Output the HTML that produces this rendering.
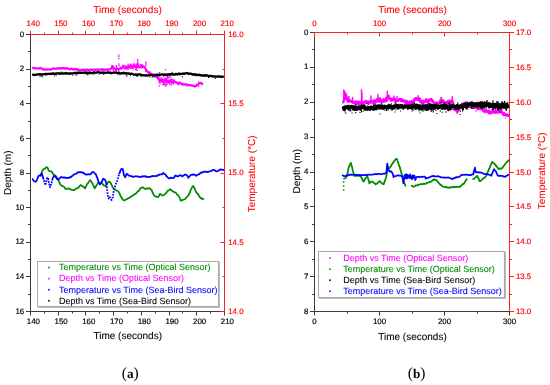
<!DOCTYPE html>
<html><head><meta charset="utf-8"><title>Depth and temperature vs time</title>
<style>
html,body{margin:0;padding:0;background:#fff;}
body{width:550px;height:385px;overflow:hidden;}
svg{display:block;font-family:"Liberation Sans", Arial, Helvetica, sans-serif;text-rendering:geometricPrecision;}
</style></head><body>
<svg width="550" height="385" viewBox="0 0 550 385">
<rect width="550" height="385" fill="#fff"/>
<line x1="30.50" y1="34.00" x2="30.50" y2="312.00" stroke="#3c3c3c" stroke-width="1"/>
<line x1="30.00" y1="311.50" x2="225.00" y2="311.50" stroke="#3c3c3c" stroke-width="1"/>
<line x1="224.50" y1="34.50" x2="224.50" y2="311.50" stroke="#ff2020" stroke-width="1"/>
<line x1="30.50" y1="34.50" x2="225.00" y2="34.50" stroke="#ff2020" stroke-width="1"/>
<line x1="26.00" y1="34.50" x2="30.50" y2="34.50" stroke="#3c3c3c" stroke-width="1"/>
<text x="24.20" y="36.70" fill="#000000" stroke="#000000" stroke-width="0.18" font-size="7.9" text-anchor="end" >0</text>
<line x1="28.00" y1="51.50" x2="30.50" y2="51.50" stroke="#3c3c3c" stroke-width="1"/>
<line x1="26.00" y1="69.50" x2="30.50" y2="69.50" stroke="#3c3c3c" stroke-width="1"/>
<text x="24.20" y="71.33" fill="#000000" stroke="#000000" stroke-width="0.18" font-size="7.9" text-anchor="end" >2</text>
<line x1="28.00" y1="86.50" x2="30.50" y2="86.50" stroke="#3c3c3c" stroke-width="1"/>
<line x1="26.00" y1="103.50" x2="30.50" y2="103.50" stroke="#3c3c3c" stroke-width="1"/>
<text x="24.20" y="105.95" fill="#000000" stroke="#000000" stroke-width="0.18" font-size="7.9" text-anchor="end" >4</text>
<line x1="28.00" y1="121.50" x2="30.50" y2="121.50" stroke="#3c3c3c" stroke-width="1"/>
<line x1="26.00" y1="138.50" x2="30.50" y2="138.50" stroke="#3c3c3c" stroke-width="1"/>
<text x="24.20" y="140.57" fill="#000000" stroke="#000000" stroke-width="0.18" font-size="7.9" text-anchor="end" >6</text>
<line x1="28.00" y1="155.50" x2="30.50" y2="155.50" stroke="#3c3c3c" stroke-width="1"/>
<line x1="26.00" y1="173.50" x2="30.50" y2="173.50" stroke="#3c3c3c" stroke-width="1"/>
<text x="24.20" y="175.20" fill="#000000" stroke="#000000" stroke-width="0.18" font-size="7.9" text-anchor="end" >8</text>
<line x1="28.00" y1="190.50" x2="30.50" y2="190.50" stroke="#3c3c3c" stroke-width="1"/>
<line x1="26.00" y1="207.50" x2="30.50" y2="207.50" stroke="#3c3c3c" stroke-width="1"/>
<text x="24.20" y="209.82" fill="#000000" stroke="#000000" stroke-width="0.18" font-size="7.9" text-anchor="end" >10</text>
<line x1="28.00" y1="224.50" x2="30.50" y2="224.50" stroke="#3c3c3c" stroke-width="1"/>
<line x1="26.00" y1="242.50" x2="30.50" y2="242.50" stroke="#3c3c3c" stroke-width="1"/>
<text x="24.20" y="244.45" fill="#000000" stroke="#000000" stroke-width="0.18" font-size="7.9" text-anchor="end" >12</text>
<line x1="28.00" y1="259.50" x2="30.50" y2="259.50" stroke="#3c3c3c" stroke-width="1"/>
<line x1="26.00" y1="276.50" x2="30.50" y2="276.50" stroke="#3c3c3c" stroke-width="1"/>
<text x="24.20" y="279.07" fill="#000000" stroke="#000000" stroke-width="0.18" font-size="7.9" text-anchor="end" >14</text>
<line x1="28.00" y1="294.50" x2="30.50" y2="294.50" stroke="#3c3c3c" stroke-width="1"/>
<line x1="26.00" y1="311.50" x2="30.50" y2="311.50" stroke="#3c3c3c" stroke-width="1"/>
<text x="24.20" y="313.70" fill="#000000" stroke="#000000" stroke-width="0.18" font-size="7.9" text-anchor="end" >16</text>
<line x1="30.50" y1="30.50" x2="30.50" y2="34.50" stroke="#ff2020" stroke-width="1"/>
<line x1="30.50" y1="311.50" x2="30.50" y2="315.50" stroke="#3c3c3c" stroke-width="1"/>
<text x="33.20" y="25.90" fill="#ff0000" stroke="#ff0000" stroke-width="0.18" font-size="7.9" text-anchor="middle" >140</text>
<text x="33.40" y="324.30" fill="#000000" stroke="#000000" stroke-width="0.18" font-size="7.9" text-anchor="middle" >140</text>
<line x1="44.50" y1="32.50" x2="44.50" y2="34.50" stroke="#ff2020" stroke-width="1"/>
<line x1="44.50" y1="311.50" x2="44.50" y2="313.50" stroke="#3c3c3c" stroke-width="1"/>
<line x1="58.50" y1="30.50" x2="58.50" y2="34.50" stroke="#ff2020" stroke-width="1"/>
<line x1="58.50" y1="311.50" x2="58.50" y2="315.50" stroke="#3c3c3c" stroke-width="1"/>
<text x="60.91" y="25.90" fill="#ff0000" stroke="#ff0000" stroke-width="0.18" font-size="7.9" text-anchor="middle" >150</text>
<text x="61.11" y="324.30" fill="#000000" stroke="#000000" stroke-width="0.18" font-size="7.9" text-anchor="middle" >150</text>
<line x1="72.50" y1="32.50" x2="72.50" y2="34.50" stroke="#ff2020" stroke-width="1"/>
<line x1="72.50" y1="311.50" x2="72.50" y2="313.50" stroke="#3c3c3c" stroke-width="1"/>
<line x1="85.50" y1="30.50" x2="85.50" y2="34.50" stroke="#ff2020" stroke-width="1"/>
<line x1="85.50" y1="311.50" x2="85.50" y2="315.50" stroke="#3c3c3c" stroke-width="1"/>
<text x="88.63" y="25.90" fill="#ff0000" stroke="#ff0000" stroke-width="0.18" font-size="7.9" text-anchor="middle" >160</text>
<text x="88.83" y="324.30" fill="#000000" stroke="#000000" stroke-width="0.18" font-size="7.9" text-anchor="middle" >160</text>
<line x1="99.50" y1="32.50" x2="99.50" y2="34.50" stroke="#ff2020" stroke-width="1"/>
<line x1="99.50" y1="311.50" x2="99.50" y2="313.50" stroke="#3c3c3c" stroke-width="1"/>
<line x1="113.50" y1="30.50" x2="113.50" y2="34.50" stroke="#ff2020" stroke-width="1"/>
<line x1="113.50" y1="311.50" x2="113.50" y2="315.50" stroke="#3c3c3c" stroke-width="1"/>
<text x="116.34" y="25.90" fill="#ff0000" stroke="#ff0000" stroke-width="0.18" font-size="7.9" text-anchor="middle" >170</text>
<text x="116.54" y="324.30" fill="#000000" stroke="#000000" stroke-width="0.18" font-size="7.9" text-anchor="middle" >170</text>
<line x1="127.50" y1="32.50" x2="127.50" y2="34.50" stroke="#ff2020" stroke-width="1"/>
<line x1="127.50" y1="311.50" x2="127.50" y2="313.50" stroke="#3c3c3c" stroke-width="1"/>
<line x1="141.50" y1="30.50" x2="141.50" y2="34.50" stroke="#ff2020" stroke-width="1"/>
<line x1="141.50" y1="311.50" x2="141.50" y2="315.50" stroke="#3c3c3c" stroke-width="1"/>
<text x="144.06" y="25.90" fill="#ff0000" stroke="#ff0000" stroke-width="0.18" font-size="7.9" text-anchor="middle" >180</text>
<text x="144.26" y="324.30" fill="#000000" stroke="#000000" stroke-width="0.18" font-size="7.9" text-anchor="middle" >180</text>
<line x1="155.50" y1="32.50" x2="155.50" y2="34.50" stroke="#ff2020" stroke-width="1"/>
<line x1="155.50" y1="311.50" x2="155.50" y2="313.50" stroke="#3c3c3c" stroke-width="1"/>
<line x1="169.50" y1="30.50" x2="169.50" y2="34.50" stroke="#ff2020" stroke-width="1"/>
<line x1="169.50" y1="311.50" x2="169.50" y2="315.50" stroke="#3c3c3c" stroke-width="1"/>
<text x="171.77" y="25.90" fill="#ff0000" stroke="#ff0000" stroke-width="0.18" font-size="7.9" text-anchor="middle" >190</text>
<text x="171.97" y="324.30" fill="#000000" stroke="#000000" stroke-width="0.18" font-size="7.9" text-anchor="middle" >190</text>
<line x1="182.50" y1="32.50" x2="182.50" y2="34.50" stroke="#ff2020" stroke-width="1"/>
<line x1="182.50" y1="311.50" x2="182.50" y2="313.50" stroke="#3c3c3c" stroke-width="1"/>
<line x1="196.50" y1="30.50" x2="196.50" y2="34.50" stroke="#ff2020" stroke-width="1"/>
<line x1="196.50" y1="311.50" x2="196.50" y2="315.50" stroke="#3c3c3c" stroke-width="1"/>
<text x="199.49" y="25.90" fill="#ff0000" stroke="#ff0000" stroke-width="0.18" font-size="7.9" text-anchor="middle" >200</text>
<text x="199.69" y="324.30" fill="#000000" stroke="#000000" stroke-width="0.18" font-size="7.9" text-anchor="middle" >200</text>
<line x1="210.50" y1="32.50" x2="210.50" y2="34.50" stroke="#ff2020" stroke-width="1"/>
<line x1="210.50" y1="311.50" x2="210.50" y2="313.50" stroke="#3c3c3c" stroke-width="1"/>
<line x1="224.50" y1="30.50" x2="224.50" y2="34.50" stroke="#ff2020" stroke-width="1"/>
<line x1="224.50" y1="311.50" x2="224.50" y2="315.50" stroke="#3c3c3c" stroke-width="1"/>
<text x="227.20" y="25.90" fill="#ff0000" stroke="#ff0000" stroke-width="0.18" font-size="7.9" text-anchor="middle" >210</text>
<text x="227.40" y="324.30" fill="#000000" stroke="#000000" stroke-width="0.18" font-size="7.9" text-anchor="middle" >210</text>
<line x1="220.50" y1="311.50" x2="224.50" y2="311.50" stroke="#ff2020" stroke-width="1"/>
<text x="228.20" y="313.80" fill="#ff0000" stroke="#ff0000" stroke-width="0.18" font-size="7.9" text-anchor="start" >14.0</text>
<line x1="222.50" y1="276.50" x2="224.50" y2="276.50" stroke="#ff2020" stroke-width="1"/>
<line x1="220.50" y1="242.50" x2="224.50" y2="242.50" stroke="#ff2020" stroke-width="1"/>
<text x="228.20" y="244.55" fill="#ff0000" stroke="#ff0000" stroke-width="0.18" font-size="7.9" text-anchor="start" >14.5</text>
<line x1="222.50" y1="207.50" x2="224.50" y2="207.50" stroke="#ff2020" stroke-width="1"/>
<line x1="220.50" y1="173.50" x2="224.50" y2="173.50" stroke="#ff2020" stroke-width="1"/>
<text x="228.20" y="175.30" fill="#ff0000" stroke="#ff0000" stroke-width="0.18" font-size="7.9" text-anchor="start" >15.0</text>
<line x1="222.50" y1="138.50" x2="224.50" y2="138.50" stroke="#ff2020" stroke-width="1"/>
<line x1="220.50" y1="103.50" x2="224.50" y2="103.50" stroke="#ff2020" stroke-width="1"/>
<text x="228.20" y="106.05" fill="#ff0000" stroke="#ff0000" stroke-width="0.18" font-size="7.9" text-anchor="start" >15.5</text>
<line x1="222.50" y1="69.50" x2="224.50" y2="69.50" stroke="#ff2020" stroke-width="1"/>
<line x1="220.50" y1="34.50" x2="224.50" y2="34.50" stroke="#ff2020" stroke-width="1"/>
<text x="228.20" y="36.80" fill="#ff0000" stroke="#ff0000" stroke-width="0.18" font-size="7.9" text-anchor="start" >16.0</text>
<text x="127.50" y="13.20" fill="#ff0000" stroke="#ff0000" stroke-width="0.08" font-size="10.0" text-anchor="middle" >Time (seconds)</text>
<text x="127.70" y="339.30" fill="#000000" stroke="#000000" stroke-width="0.08" font-size="10.0" text-anchor="middle" >Time (seconds)</text>
<text transform="translate(10.5,172.7) rotate(-90)" fill="#000000" stroke="#000000" stroke-width="0.08" font-size="10.0" text-anchor="middle">Depth (m)</text>
<text transform="translate(254.8,173.9) rotate(-90)" fill="#ff0000" stroke="#ff0000" stroke-width="0.08" font-size="10.0" text-anchor="middle">Temperature (°C)</text>
<line x1="314.50" y1="32.50" x2="314.50" y2="312.00" stroke="#3c3c3c" stroke-width="1"/>
<line x1="314.00" y1="311.50" x2="510.00" y2="311.50" stroke="#3c3c3c" stroke-width="1"/>
<line x1="509.50" y1="32.50" x2="509.50" y2="311.50" stroke="#ff2020" stroke-width="1"/>
<line x1="314.50" y1="32.50" x2="510.00" y2="32.50" stroke="#ff2020" stroke-width="1"/>
<line x1="310.00" y1="32.50" x2="314.50" y2="32.50" stroke="#3c3c3c" stroke-width="1"/>
<text x="308.40" y="34.60" fill="#000000" stroke="#000000" stroke-width="0.18" font-size="7.9" text-anchor="end" >0</text>
<line x1="312.00" y1="49.50" x2="314.50" y2="49.50" stroke="#3c3c3c" stroke-width="1"/>
<line x1="310.00" y1="67.50" x2="314.50" y2="67.50" stroke="#3c3c3c" stroke-width="1"/>
<text x="308.40" y="69.47" fill="#000000" stroke="#000000" stroke-width="0.18" font-size="7.9" text-anchor="end" >1</text>
<line x1="312.00" y1="84.50" x2="314.50" y2="84.50" stroke="#3c3c3c" stroke-width="1"/>
<line x1="310.00" y1="102.50" x2="314.50" y2="102.50" stroke="#3c3c3c" stroke-width="1"/>
<text x="308.40" y="104.35" fill="#000000" stroke="#000000" stroke-width="0.18" font-size="7.9" text-anchor="end" >2</text>
<line x1="312.00" y1="119.50" x2="314.50" y2="119.50" stroke="#3c3c3c" stroke-width="1"/>
<line x1="310.00" y1="137.50" x2="314.50" y2="137.50" stroke="#3c3c3c" stroke-width="1"/>
<text x="308.40" y="139.22" fill="#000000" stroke="#000000" stroke-width="0.18" font-size="7.9" text-anchor="end" >3</text>
<line x1="312.00" y1="154.50" x2="314.50" y2="154.50" stroke="#3c3c3c" stroke-width="1"/>
<line x1="310.00" y1="172.50" x2="314.50" y2="172.50" stroke="#3c3c3c" stroke-width="1"/>
<text x="308.40" y="174.10" fill="#000000" stroke="#000000" stroke-width="0.18" font-size="7.9" text-anchor="end" >4</text>
<line x1="312.00" y1="189.50" x2="314.50" y2="189.50" stroke="#3c3c3c" stroke-width="1"/>
<line x1="310.00" y1="206.50" x2="314.50" y2="206.50" stroke="#3c3c3c" stroke-width="1"/>
<text x="308.40" y="208.97" fill="#000000" stroke="#000000" stroke-width="0.18" font-size="7.9" text-anchor="end" >5</text>
<line x1="312.00" y1="224.50" x2="314.50" y2="224.50" stroke="#3c3c3c" stroke-width="1"/>
<line x1="310.00" y1="241.50" x2="314.50" y2="241.50" stroke="#3c3c3c" stroke-width="1"/>
<text x="308.40" y="243.85" fill="#000000" stroke="#000000" stroke-width="0.18" font-size="7.9" text-anchor="end" >6</text>
<line x1="312.00" y1="259.50" x2="314.50" y2="259.50" stroke="#3c3c3c" stroke-width="1"/>
<line x1="310.00" y1="276.50" x2="314.50" y2="276.50" stroke="#3c3c3c" stroke-width="1"/>
<text x="308.40" y="278.73" fill="#000000" stroke="#000000" stroke-width="0.18" font-size="7.9" text-anchor="end" >7</text>
<line x1="312.00" y1="294.50" x2="314.50" y2="294.50" stroke="#3c3c3c" stroke-width="1"/>
<line x1="310.00" y1="311.50" x2="314.50" y2="311.50" stroke="#3c3c3c" stroke-width="1"/>
<text x="308.40" y="313.60" fill="#000000" stroke="#000000" stroke-width="0.18" font-size="7.9" text-anchor="end" >8</text>
<line x1="314.50" y1="32.50" x2="314.50" y2="36.50" stroke="#ff2020" stroke-width="1"/>
<line x1="314.50" y1="311.50" x2="314.50" y2="315.50" stroke="#3c3c3c" stroke-width="1"/>
<text x="314.50" y="25.90" fill="#ff0000" stroke="#ff0000" stroke-width="0.18" font-size="7.9" text-anchor="middle" >0</text>
<text x="314.50" y="324.40" fill="#000000" stroke="#000000" stroke-width="0.18" font-size="7.9" text-anchor="middle" >0</text>
<line x1="347.50" y1="32.50" x2="347.50" y2="34.50" stroke="#ff2020" stroke-width="1"/>
<line x1="347.50" y1="311.50" x2="347.50" y2="313.50" stroke="#3c3c3c" stroke-width="1"/>
<line x1="379.50" y1="32.50" x2="379.50" y2="36.50" stroke="#ff2020" stroke-width="1"/>
<line x1="379.50" y1="311.50" x2="379.50" y2="315.50" stroke="#3c3c3c" stroke-width="1"/>
<text x="379.50" y="25.90" fill="#ff0000" stroke="#ff0000" stroke-width="0.18" font-size="7.9" text-anchor="middle" >100</text>
<text x="379.50" y="324.40" fill="#000000" stroke="#000000" stroke-width="0.18" font-size="7.9" text-anchor="middle" >100</text>
<line x1="412.50" y1="32.50" x2="412.50" y2="34.50" stroke="#ff2020" stroke-width="1"/>
<line x1="412.50" y1="311.50" x2="412.50" y2="313.50" stroke="#3c3c3c" stroke-width="1"/>
<line x1="444.50" y1="32.50" x2="444.50" y2="36.50" stroke="#ff2020" stroke-width="1"/>
<line x1="444.50" y1="311.50" x2="444.50" y2="315.50" stroke="#3c3c3c" stroke-width="1"/>
<text x="444.50" y="25.90" fill="#ff0000" stroke="#ff0000" stroke-width="0.18" font-size="7.9" text-anchor="middle" >200</text>
<text x="444.50" y="324.40" fill="#000000" stroke="#000000" stroke-width="0.18" font-size="7.9" text-anchor="middle" >200</text>
<line x1="477.50" y1="32.50" x2="477.50" y2="34.50" stroke="#ff2020" stroke-width="1"/>
<line x1="477.50" y1="311.50" x2="477.50" y2="313.50" stroke="#3c3c3c" stroke-width="1"/>
<line x1="509.50" y1="32.50" x2="509.50" y2="36.50" stroke="#ff2020" stroke-width="1"/>
<line x1="509.50" y1="311.50" x2="509.50" y2="315.50" stroke="#3c3c3c" stroke-width="1"/>
<text x="509.50" y="25.90" fill="#ff0000" stroke="#ff0000" stroke-width="0.18" font-size="7.9" text-anchor="middle" >300</text>
<text x="509.50" y="324.40" fill="#000000" stroke="#000000" stroke-width="0.18" font-size="7.9" text-anchor="middle" >300</text>
<line x1="509.50" y1="311.50" x2="514.00" y2="311.50" stroke="#ff2020" stroke-width="1"/>
<text x="515.90" y="314.00" fill="#ff0000" stroke="#ff0000" stroke-width="0.18" font-size="7.9" text-anchor="start" >13.0</text>
<line x1="509.50" y1="294.50" x2="512.00" y2="294.50" stroke="#ff2020" stroke-width="1"/>
<line x1="509.50" y1="276.50" x2="514.00" y2="276.50" stroke="#ff2020" stroke-width="1"/>
<text x="515.90" y="279.12" fill="#ff0000" stroke="#ff0000" stroke-width="0.18" font-size="7.9" text-anchor="start" >13.5</text>
<line x1="509.50" y1="259.50" x2="512.00" y2="259.50" stroke="#ff2020" stroke-width="1"/>
<line x1="509.50" y1="241.50" x2="514.00" y2="241.50" stroke="#ff2020" stroke-width="1"/>
<text x="515.90" y="244.25" fill="#ff0000" stroke="#ff0000" stroke-width="0.18" font-size="7.9" text-anchor="start" >14.0</text>
<line x1="509.50" y1="224.50" x2="512.00" y2="224.50" stroke="#ff2020" stroke-width="1"/>
<line x1="509.50" y1="206.50" x2="514.00" y2="206.50" stroke="#ff2020" stroke-width="1"/>
<text x="515.90" y="209.38" fill="#ff0000" stroke="#ff0000" stroke-width="0.18" font-size="7.9" text-anchor="start" >14.5</text>
<line x1="509.50" y1="189.50" x2="512.00" y2="189.50" stroke="#ff2020" stroke-width="1"/>
<line x1="509.50" y1="172.50" x2="514.00" y2="172.50" stroke="#ff2020" stroke-width="1"/>
<text x="515.90" y="174.50" fill="#ff0000" stroke="#ff0000" stroke-width="0.18" font-size="7.9" text-anchor="start" >15.0</text>
<line x1="509.50" y1="154.50" x2="512.00" y2="154.50" stroke="#ff2020" stroke-width="1"/>
<line x1="509.50" y1="137.50" x2="514.00" y2="137.50" stroke="#ff2020" stroke-width="1"/>
<text x="515.90" y="139.62" fill="#ff0000" stroke="#ff0000" stroke-width="0.18" font-size="7.9" text-anchor="start" >15.5</text>
<line x1="509.50" y1="119.50" x2="512.00" y2="119.50" stroke="#ff2020" stroke-width="1"/>
<line x1="509.50" y1="102.50" x2="514.00" y2="102.50" stroke="#ff2020" stroke-width="1"/>
<text x="515.90" y="104.75" fill="#ff0000" stroke="#ff0000" stroke-width="0.18" font-size="7.9" text-anchor="start" >16.0</text>
<line x1="509.50" y1="84.50" x2="512.00" y2="84.50" stroke="#ff2020" stroke-width="1"/>
<line x1="509.50" y1="67.50" x2="514.00" y2="67.50" stroke="#ff2020" stroke-width="1"/>
<text x="515.90" y="69.88" fill="#ff0000" stroke="#ff0000" stroke-width="0.18" font-size="7.9" text-anchor="start" >16.5</text>
<line x1="509.50" y1="49.50" x2="512.00" y2="49.50" stroke="#ff2020" stroke-width="1"/>
<line x1="509.50" y1="32.50" x2="514.00" y2="32.50" stroke="#ff2020" stroke-width="1"/>
<text x="515.90" y="35.00" fill="#ff0000" stroke="#ff0000" stroke-width="0.18" font-size="7.9" text-anchor="start" >17.0</text>
<text x="412.50" y="13.20" fill="#ff0000" stroke="#ff0000" stroke-width="0.08" font-size="10.0" text-anchor="middle" >Time (seconds)</text>
<text x="412.50" y="339.60" fill="#000000" stroke="#000000" stroke-width="0.08" font-size="10.0" text-anchor="middle" >Time (seconds)</text>
<text transform="translate(299.5,171.2) rotate(-90)" fill="#000000" stroke="#000000" stroke-width="0.08" font-size="10.0" text-anchor="middle">Depth (m)</text>
<text transform="translate(545.0,170.8) rotate(-90)" fill="#ff0000" stroke="#ff0000" stroke-width="0.08" font-size="10.0" text-anchor="middle">Temperature (°C)</text>
<polyline points="33.0,67.9 34.2,68.1 35.4,68.2 36.6,68.4 37.8,68.3 39.0,68.6 40.2,67.8 41.4,68.5 42.6,69.3 43.8,69.2 45.0,69.8 46.2,69.2 47.4,69.6 48.6,69.3 49.8,69.6 51.0,69.5 52.2,68.6 53.4,68.6 54.6,68.4 55.8,68.9 57.0,68.7 58.2,68.1 59.4,68.8 60.6,68.1 61.8,68.6 63.0,68.1 64.2,67.9 65.4,68.8 66.6,68.2 67.8,68.3 69.0,69.2 70.2,69.2 71.4,68.7 72.6,69.5 73.8,69.1 75.0,69.4 76.2,69.0 77.4,69.9 78.6,69.7 79.8,70.1 81.0,70.1 82.2,69.7 83.4,69.8 84.6,69.7 85.8,69.8 87.0,69.7 88.2,69.9 89.4,70.1 90.6,69.4 91.8,70.0 93.0,69.6 94.2,69.5 95.4,69.9 96.6,69.6 97.8,69.4 99.0,69.6 100.2,69.8 101.4,69.2 102.6,70.1 103.8,69.1 105.0,69.8 106.2,69.9 107.4,69.1 108.6,69.8 109.8,69.4 111.0,68.6 112.2,68.0 113.4,68.5 114.6,68.7 115.8,69.5 117.0,68.7 118.2,69.2 119.4,68.7 120.6,68.4 121.8,67.7 123.0,67.6 124.2,67.7 125.4,67.8 126.6,67.1 127.8,67.5 129.0,67.4 130.2,67.3 131.4,66.3 132.6,67.2 133.8,66.4 135.0,66.6 136.2,66.9 137.4,67.0 138.6,66.4 139.8,67.1 141.0,66.8 142.2,66.7 143.4,66.9 144.6,66.8 145.8,69.4 147.0,70.9 148.2,72.3 149.4,73.5 150.6,73.5 151.8,74.1 153.0,75.7 154.2,75.9 155.4,76.3 156.6,76.6 157.8,78.1 159.0,79.8 160.2,80.1 161.4,80.5 162.6,80.2 163.8,81.1 165.0,80.4 166.2,80.9 167.4,81.4 168.6,80.8 169.8,81.5 171.0,81.8 172.2,81.7 173.4,82.1 174.6,81.8 175.8,82.4 177.0,82.3 178.2,83.2 179.4,82.9 180.6,83.3 181.8,84.1 183.0,84.2 184.2,84.6 185.4,84.3 186.6,84.6 187.8,85.0 189.0,85.0 190.2,85.1 191.4,85.5 192.6,85.6 193.8,85.7 195.0,86.1 196.2,85.9 197.4,85.0 198.6,84.2 199.8,83.0 201.0,83.2 202.2,84.0" fill="none" stroke="#ff00ff" stroke-width="2.2" stroke-linejoin="round" stroke-linecap="round" />
<path d="M181.9 84.5h1.1v1.1h-1.1z M182.3 82.8h1.1v1.1h-1.1z M181.3 82.8h1.1v1.1h-1.1z M179.9 81.4h1.1v1.1h-1.1z M143.4 66.7h1.1v1.1h-1.1z M154.7 75.1h1.1v1.1h-1.1z M180.8 83.0h1.1v1.1h-1.1z M197.0 84.0h1.1v1.1h-1.1z M169.8 81.1h1.1v1.1h-1.1z M160.3 80.1h1.1v1.1h-1.1z M133.1 66.1h1.1v1.1h-1.1z M185.1 83.0h1.1v1.1h-1.1z M169.6 81.6h1.1v1.1h-1.1z M169.3 80.1h1.1v1.1h-1.1z M177.9 83.4h1.1v1.1h-1.1z M187.5 83.7h1.1v1.1h-1.1z M190.0 83.9h1.1v1.1h-1.1z M198.0 81.3h1.1v1.1h-1.1z M157.7 77.1h1.1v1.1h-1.1z M187.0 84.5h1.1v1.1h-1.1z M196.2 83.4h1.1v1.1h-1.1z M176.2 82.8h1.1v1.1h-1.1z M177.2 83.8h1.1v1.1h-1.1z M163.4 82.7h1.1v1.1h-1.1z M171.2 79.8h1.1v1.1h-1.1z M181.3 84.3h1.1v1.1h-1.1z M168.6 81.1h1.1v1.1h-1.1z M124.7 67.3h1.1v1.1h-1.1z M150.6 73.3h1.1v1.1h-1.1z M173.1 81.0h1.1v1.1h-1.1z M168.0 82.5h1.1v1.1h-1.1z M130.8 67.2h1.1v1.1h-1.1z M115.0 69.8h1.1v1.1h-1.1z M126.7 68.3h1.1v1.1h-1.1z M127.8 68.7h1.1v1.1h-1.1z M145.0 67.5h1.1v1.1h-1.1z M166.3 80.1h1.1v1.1h-1.1z M193.1 85.4h1.1v1.1h-1.1z M110.1 68.6h1.1v1.1h-1.1z M147.7 72.4h1.1v1.1h-1.1z M120.6 68.6h1.1v1.1h-1.1z M113.3 67.9h1.1v1.1h-1.1z M166.4 82.3h1.1v1.1h-1.1z M141.2 67.7h1.1v1.1h-1.1z M163.4 83.0h1.1v1.1h-1.1z M148.6 71.8h1.1v1.1h-1.1z M184.8 83.5h1.1v1.1h-1.1z M123.1 66.8h1.1v1.1h-1.1z M164.8 77.8h1.1v1.1h-1.1z M199.1 82.5h1.1v1.1h-1.1z M166.0 79.3h1.1v1.1h-1.1z M110.1 71.6h1.1v1.1h-1.1z M119.9 66.4h1.1v1.1h-1.1z M122.9 67.0h1.1v1.1h-1.1z M167.9 82.1h1.1v1.1h-1.1z M149.7 72.5h1.1v1.1h-1.1z M130.8 65.9h1.1v1.1h-1.1z M144.9 70.6h1.1v1.1h-1.1z M198.4 85.8h1.1v1.1h-1.1z M133.9 65.9h1.1v1.1h-1.1z M200.3 81.8h1.1v1.1h-1.1z M139.4 66.7h1.1v1.1h-1.1z M200.6 82.2h1.1v1.1h-1.1z M153.9 75.8h1.1v1.1h-1.1z M121.2 66.9h1.1v1.1h-1.1z M137.0 65.7h1.1v1.1h-1.1z M181.9 83.7h1.1v1.1h-1.1z M159.0 79.3h1.1v1.1h-1.1z M135.2 68.9h1.1v1.1h-1.1z M132.6 65.9h1.1v1.1h-1.1z M134.6 69.0h1.1v1.1h-1.1z M137.0 69.9h1.1v1.1h-1.1z M165.9 79.1h1.1v1.1h-1.1z M165.6 81.2h1.1v1.1h-1.1z M178.4 84.5h1.1v1.1h-1.1z M137.7 68.0h1.1v1.1h-1.1z M159.1 79.0h1.1v1.1h-1.1z M158.7 80.1h1.1v1.1h-1.1z M152.7 73.7h1.1v1.1h-1.1z M164.4 82.4h1.1v1.1h-1.1z M113.4 69.0h1.1v1.1h-1.1z M194.3 87.2h1.1v1.1h-1.1z M191.7 85.5h1.1v1.1h-1.1z M181.6 83.5h1.1v1.1h-1.1z M149.4 71.2h1.1v1.1h-1.1z M168.2 80.2h1.1v1.1h-1.1z M154.3 77.0h1.1v1.1h-1.1z M146.1 69.9h1.1v1.1h-1.1z M188.4 85.2h1.1v1.1h-1.1z M186.4 85.6h1.1v1.1h-1.1z" fill="#ff00ff"/>
<path d="M113.3 69.0l0 -3.6 M126.1 67.5l0 2.2 M142.9 67.0l0 -1.9 M130.2 66.9l0 -2.7 M116.4 69.0l0 3.0 M113.4 69.0l0 2.1 M138.7 66.6l0 -3.2 M136.3 66.8l0 3.9 M135.5 66.8l0 1.6 M118.7 68.7l0 3.1 M135.9 66.8l0 -1.8 M143.1 67.0l0 -1.9 M125.5 67.6l0 -1.9 M112.5 68.7l0 -1.8 M113.5 69.0l0 -1.6 M137.0 66.7l0 -3.7 M126.1 67.5l0 -2.3 M128.1 67.2l0 -3.8 M113.0 69.0l0 -3.2 M133.1 66.8l0 2.8 M130.4 66.9l0 -3.1 M130.3 66.9l0 2.1 M129.1 67.1l0 -1.8 M124.0 67.7l0 -3.3 M136.0 66.8l0 -3.1 M134.4 66.8l0 -1.7 M131.8 66.8l0 2.1 M127.8 67.3l0 2.3 M112.0 68.4l0 -3.3 M116.3 69.0l0 -3.9 M118.8 68.6l0 1.8 M134.3 66.8l0 -3.6 M132.9 66.8l0 -2.4 M122.7 67.8l0 -3.0 M124.5 67.6l0 1.8 M133.7 66.8l0 -3.5 M140.8 66.8l0 -2.8 M131.1 66.8l0 -3.4 M114.4 69.0l0 -1.6 M112.4 68.6l0 -3.7 M137.6 66.6l0 -1.5 M142.1 66.9l0 -3.0 M127.3 67.4l0 -1.7 M116.6 69.0l0 -2.4 M141.8 66.9l0 -1.9" fill="none" stroke="#ff00ff" stroke-width="1.2"/>
<path d="M162.4 81.1h1.2v1.2h-1.2z M161.8 81.6h1.2v1.2h-1.2z M165.7 84.9h1.2v1.2h-1.2z M163.9 81.3h1.2v1.2h-1.2z M173.0 80.2h1.2v1.2h-1.2z M165.5 77.7h1.2v1.2h-1.2z M173.1 83.6h1.2v1.2h-1.2z M162.7 82.3h1.2v1.2h-1.2z M168.8 80.7h1.2v1.2h-1.2z M161.2 79.0h1.2v1.2h-1.2z M158.4 80.1h1.2v1.2h-1.2z M164.4 81.2h1.2v1.2h-1.2z M173.6 80.3h1.2v1.2h-1.2z M165.5 81.8h1.2v1.2h-1.2z M162.5 79.9h1.2v1.2h-1.2z M160.6 77.0h1.2v1.2h-1.2z M161.8 78.0h1.2v1.2h-1.2z M168.3 76.6h1.2v1.2h-1.2z M164.9 80.7h1.2v1.2h-1.2z M159.0 80.0h1.2v1.2h-1.2z M170.5 80.5h1.2v1.2h-1.2z M166.8 80.9h1.2v1.2h-1.2z M173.8 79.6h1.2v1.2h-1.2z M159.5 79.9h1.2v1.2h-1.2z M159.1 81.9h1.2v1.2h-1.2z M173.0 80.0h1.2v1.2h-1.2z M158.9 80.1h1.2v1.2h-1.2z M164.4 81.0h1.2v1.2h-1.2z M159.0 80.0h1.2v1.2h-1.2z M162.9 82.4h1.2v1.2h-1.2z M158.8 85.2h1.2v1.2h-1.2z M160.9 81.4h1.2v1.2h-1.2z M166.1 78.5h1.2v1.2h-1.2z M159.3 81.5h1.2v1.2h-1.2z M163.0 82.3h1.2v1.2h-1.2z M172.7 82.9h1.2v1.2h-1.2z M167.6 81.6h1.2v1.2h-1.2z M158.3 78.9h1.2v1.2h-1.2z M166.6 78.0h1.2v1.2h-1.2z M164.0 80.6h1.2v1.2h-1.2z M168.0 80.1h1.2v1.2h-1.2z M162.9 75.9h1.2v1.2h-1.2z M165.2 81.1h1.2v1.2h-1.2z M159.9 78.9h1.2v1.2h-1.2z M163.0 83.2h1.2v1.2h-1.2z M171.1 82.9h1.2v1.2h-1.2z M163.0 80.9h1.2v1.2h-1.2z M161.9 80.8h1.2v1.2h-1.2z M159.3 77.7h1.2v1.2h-1.2z M161.9 81.4h1.2v1.2h-1.2z M159.0 79.9h1.2v1.2h-1.2z M161.2 79.6h1.2v1.2h-1.2z M162.6 79.6h1.2v1.2h-1.2z M164.7 81.1h1.2v1.2h-1.2z M163.0 80.4h1.2v1.2h-1.2z M172.3 78.7h1.2v1.2h-1.2z M168.5 81.0h1.2v1.2h-1.2z M165.1 77.8h1.2v1.2h-1.2z M171.1 78.3h1.2v1.2h-1.2z M169.6 76.8h1.2v1.2h-1.2z M169.2 80.5h1.2v1.2h-1.2z M164.1 84.0h1.2v1.2h-1.2z M160.1 81.2h1.2v1.2h-1.2z M162.2 80.8h1.2v1.2h-1.2z M168.8 80.7h1.2v1.2h-1.2z M170.2 81.7h1.2v1.2h-1.2z M166.9 81.2h1.2v1.2h-1.2z M160.1 80.2h1.2v1.2h-1.2z M163.7 83.5h1.2v1.2h-1.2z M167.8 77.0h1.2v1.2h-1.2z M161.7 78.5h1.2v1.2h-1.2z M163.3 81.2h1.2v1.2h-1.2z M158.2 76.8h1.2v1.2h-1.2z M169.6 79.1h1.2v1.2h-1.2z M159.5 78.9h1.2v1.2h-1.2z M169.4 80.7h1.2v1.2h-1.2z M165.1 83.7h1.2v1.2h-1.2z M159.9 78.8h1.2v1.2h-1.2z M163.1 82.2h1.2v1.2h-1.2z M164.9 79.3h1.2v1.2h-1.2z M165.1 81.0h1.2v1.2h-1.2z M166.5 75.9h1.2v1.2h-1.2z M173.5 80.7h1.2v1.2h-1.2z M171.0 80.6h1.2v1.2h-1.2z M164.7 85.6h1.2v1.2h-1.2z M158.5 81.8h1.2v1.2h-1.2z M167.2 76.5h1.2v1.2h-1.2z M164.3 80.9h1.2v1.2h-1.2z M161.4 80.0h1.2v1.2h-1.2z M167.0 81.9h1.2v1.2h-1.2z M163.7 80.4h1.2v1.2h-1.2z M163.6 78.9h1.2v1.2h-1.2z M162.0 84.1h1.2v1.2h-1.2z M171.6 80.8h1.2v1.2h-1.2z M167.9 79.8h1.2v1.2h-1.2z M171.3 81.8h1.2v1.2h-1.2z M165.8 81.7h1.2v1.2h-1.2z M159.6 80.4h1.2v1.2h-1.2z M169.5 82.0h1.2v1.2h-1.2z M170.8 80.3h1.2v1.2h-1.2z M163.2 78.7h1.2v1.2h-1.2z M168.0 77.1h1.2v1.2h-1.2z M170.8 80.9h1.2v1.2h-1.2z M166.2 80.7h1.2v1.2h-1.2z M167.4 81.5h1.2v1.2h-1.2z M163.1 82.1h1.2v1.2h-1.2z M158.4 79.3h1.2v1.2h-1.2z M165.6 82.3h1.2v1.2h-1.2z M169.3 76.3h1.2v1.2h-1.2z M171.0 84.5h1.2v1.2h-1.2z M172.8 80.3h1.2v1.2h-1.2z M166.6 77.8h1.2v1.2h-1.2z M170.8 79.4h1.2v1.2h-1.2z M168.9 82.9h1.2v1.2h-1.2z M166.4 80.4h1.2v1.2h-1.2z M159.4 80.9h1.2v1.2h-1.2z M163.7 77.4h1.2v1.2h-1.2z M169.4 79.3h1.2v1.2h-1.2z M162.9 81.8h1.2v1.2h-1.2z M169.5 80.2h1.2v1.2h-1.2z" fill="#ff00ff"/>
<path d="M118.2 54.4h1.3v1.3h-1.3z M118.2 55.9h1.3v1.3h-1.3z M118.2 57.9h1.3v1.3h-1.3z M118.3 63.4h1.3v1.3h-1.3z M118.4 64.9h1.3v1.3h-1.3z M126.1 75.6h1.3v1.3h-1.3z M119.1 73.9h1.3v1.3h-1.3z M137.1 59.0h1.3v1.3h-1.3z M136.9 60.4h1.3v1.3h-1.3z M137.2 61.9h1.3v1.3h-1.3z M137.0 63.4h1.3v1.3h-1.3z M110.9 66.0h1.3v1.3h-1.3z M145.3 61.6h1.3v1.3h-1.3z M145.3 63.2h1.3v1.3h-1.3z M145.3 64.8h1.3v1.3h-1.3z M145.4 68.4h1.3v1.3h-1.3z M145.4 70.9h1.3v1.3h-1.3z M164.9 68.9h1.3v1.3h-1.3z M171.2 71.7h1.3v1.3h-1.3z M158.9 72.1h1.3v1.3h-1.3z M159.4 82.9h1.3v1.3h-1.3z M162.4 83.9h1.3v1.3h-1.3z M166.4 83.6h1.3v1.3h-1.3z M169.4 84.0h1.3v1.3h-1.3z" fill="#ff00ff"/>
<polyline points="40.9,174.2 41.2,173.8 41.6,172.8 41.9,172.1 42.3,171.2 42.8,170.1 43.2,169.3 44.1,169.0 45.0,168.7 45.9,167.6 46.8,167.1 47.7,168.0 48.0,168.5 48.3,169.9 48.6,170.5 49.3,170.9 50.0,171.1 51.4,171.3 52.0,172.1 52.7,173.3 53.3,174.1 53.9,174.7 54.5,175.1 55.1,175.5 55.8,175.9 56.4,176.9 56.8,177.6 57.3,178.5 57.7,179.0 58.2,180.3 58.6,180.7 59.1,181.7 59.5,182.5 60.0,183.7 60.5,184.8 61.1,185.3 62.1,185.9 63.1,186.4 63.8,186.7 64.4,187.2 65.0,188.2 65.7,189.0 66.6,189.0 67.4,188.8 68.3,188.4 69.2,188.7 70.0,189.1 70.9,189.7 71.8,189.7 72.8,190.1 73.6,190.0 74.4,190.0 75.3,189.1 76.1,188.7 76.9,188.2 77.8,188.0 78.6,187.6 79.1,186.6 79.6,186.0 80.1,185.6 80.6,185.0 81.5,185.7 82.5,186.4 83.2,186.4 83.8,187.1 84.4,187.9 85.1,188.4 85.5,187.2 85.9,186.8 86.2,185.9 86.6,185.3 87.0,184.0 87.5,183.7 88.1,183.1 88.6,182.2 89.1,181.3 89.7,180.7 90.2,180.1 90.7,180.8 91.2,181.6 91.8,182.7 92.3,183.1 92.8,184.4 93.2,185.1 93.6,186.0 93.9,186.8 94.3,187.5 94.7,188.4 95.2,187.6 95.7,186.6 96.2,186.0 96.7,184.6 97.3,184.0 98.0,183.3 98.6,182.7 99.5,182.6 100.3,182.5 101.2,182.4 101.7,183.1 102.2,183.3 102.8,184.2 103.3,184.9 103.8,185.4 104.8,185.6 105.8,186.3 106.2,185.3 106.6,184.8 106.9,183.9 107.3,183.4 107.7,182.6 108.7,181.7 109.7,181.8 110.2,182.6 110.7,183.1 111.1,183.8 111.6,184.9 112.0,185.6 112.4,186.6 112.8,187.5 113.2,187.9 113.6,188.7 114.5,189.2 115.3,189.8 116.2,190.3 116.8,190.6 117.5,190.9 118.2,191.4 118.8,192.2 119.1,192.8 119.5,193.2 119.8,194.2 120.1,194.8 120.4,195.8 120.8,196.1 121.1,197.0 121.4,197.6 122.1,198.5 122.7,199.5 123.3,199.9 124.0,200.4 124.9,200.4 125.7,199.3 126.6,199.1 127.4,199.0 128.2,198.1 128.9,198.2 129.7,197.5 130.5,196.9 131.3,196.5 132.1,196.1 132.8,195.6 133.6,195.1 134.4,194.3 135.0,193.9 135.7,193.9 136.3,193.0 136.9,192.4 137.6,191.6 138.2,191.2 138.7,191.1 139.2,190.2 139.8,189.4 140.3,188.4 140.8,188.0 141.7,187.8 142.6,187.2 143.4,187.7 144.2,188.4 145.0,188.7 145.8,189.1 146.6,188.5 147.4,188.3 148.1,188.6 148.9,188.2 149.7,188.4 150.4,189.0 151.0,189.7 151.7,190.0 152.0,191.2 152.3,191.8 152.6,192.6 153.0,192.9 153.3,194.0 153.6,194.5 154.3,195.6 154.9,196.3 155.6,196.4 156.5,196.7 157.3,196.8 158.2,197.2 158.7,196.3 159.1,195.7 159.6,194.5 160.1,193.8 160.8,194.5 161.4,194.7 162.1,195.4 163.0,195.5 163.8,195.2 164.7,194.4 165.2,193.6 165.7,193.5 166.3,193.0 166.8,192.1 167.3,191.1 168.0,190.7 168.6,190.7 169.2,190.2 169.9,189.1 170.7,189.7 171.5,190.4 172.3,190.7 173.1,191.6 173.9,191.8 174.8,192.5 175.6,192.6 176.4,193.3 176.9,194.3 177.4,194.8 178.0,195.0 178.5,195.7 179.0,196.7 179.4,197.3 179.8,198.1 180.1,198.9 180.5,199.8 180.9,200.8 181.8,200.1 182.6,200.1 183.5,199.6 184.5,199.2 185.5,198.7 186.2,197.6 186.8,197.2 187.4,196.7 188.1,195.6 188.5,195.3 188.9,194.3 189.2,193.6 189.6,192.9 190.0,192.2 190.3,190.9 190.7,190.5 191.0,189.4 191.3,188.9 191.7,188.1 192.0,187.2 192.6,186.6 193.2,185.9 193.6,186.7 194.1,187.7 194.5,188.0 194.8,188.9 195.2,189.8 195.5,190.7 195.8,191.5 196.2,192.3 196.5,192.6 197.1,193.1 197.8,194.3 198.4,194.3 198.9,195.6 199.5,196.8 200.1,197.3 200.8,197.8 201.4,198.8 202.4,198.6 203.4,198.9" fill="none" stroke="#008a00" stroke-width="1.75" stroke-linejoin="round" stroke-linecap="round" />
<polyline points="32.7,179.1 33.2,180.1 33.6,180.4 34.1,181.3 35.5,181.8 36.1,181.2 36.8,180.3 37.1,179.5 37.5,178.3 37.9,177.4 38.2,176.7 39.1,175.3 40.5,175.8 41.1,174.4 41.8,173.4 42.1,174.6 42.4,175.4 42.6,175.9 42.9,177.1 43.2,177.7" fill="none" stroke="#0000ff" stroke-width="1.75" stroke-linejoin="round" stroke-linecap="round" />
<polyline points="43.2,177.7 44.5,182.7 45.5,185.0 46.4,180.9 47.3,177.7 48.2,178.6 49.1,183.6 50.0,187.3 51.4,183.6 52.7,178.2" fill="none" stroke="#0000ff" stroke-width="1.7" stroke-linejoin="round" stroke-linecap="butt" stroke-dasharray="1.8 0.9"/>
<polyline points="52.7,178.3 53.2,177.4 53.6,176.8 54.1,175.7 55.5,176.2 55.9,177.4 56.4,177.8 56.8,178.9 57.5,179.1 58.2,179.7 58.7,179.0 59.1,178.8 59.8,178.1 60.5,177.2 61.4,177.1 62.2,177.6 63.1,177.3 64.1,177.8 65.0,177.4 66.0,178.0 67.0,177.8 67.8,178.1 68.6,177.8 69.3,177.6 70.1,177.1 70.9,177.4 71.6,176.3 72.2,175.8 72.8,175.8 73.5,174.9 74.2,174.4 74.8,174.2 75.6,173.9 76.3,173.6 77.1,173.1 77.8,172.2 78.6,172.2 79.6,172.4 80.5,172.0 81.5,172.6 82.5,172.3 83.3,172.9 84.2,173.3 85.0,174.4 85.9,174.3 86.7,174.6 87.6,174.3 88.5,174.2 89.3,174.3 90.2,174.3 90.8,174.2 91.5,173.0 92.2,172.3 92.8,171.8 93.5,172.1 94.1,172.8 94.8,173.4 95.4,173.9 95.8,174.4 96.2,175.1 96.5,176.1 96.9,177.1 97.3,177.7 97.6,178.7 97.8,179.8 98.1,180.2 98.3,181.2 98.6,182.3 99.2,183.3 99.9,184.5 100.6,183.6 101.2,183.0 101.6,182.1 102.0,181.5 102.4,180.8 102.8,179.6 103.2,178.7 104.2,179.2 105.1,179.6 105.4,180.8 105.6,181.1 105.9,182.1 106.1,182.9 106.4,183.6" fill="none" stroke="#0000ff" stroke-width="1.75" stroke-linejoin="round" stroke-linecap="round" />
<polyline points="106.4,183.6 107.2,190.0 107.8,196.0 108.6,198.5 109.6,196.5 110.5,199.0 111.6,200.0 112.6,198.0 113.3,194.0 114.0,189.5 115.5,184.9 117.5,179.7 119.4,173.2" fill="none" stroke="#0000ff" stroke-width="1.8" stroke-linejoin="round" stroke-linecap="butt" stroke-dasharray="1.6 1.3"/>
<polyline points="119.4,173.5 119.7,172.2 120.1,171.9 120.4,170.8 120.7,169.9 121.1,169.5 121.4,168.8 122.2,169.0 122.9,169.0 123.0,170.4 123.2,170.8 123.3,171.8 123.5,172.7 123.6,173.2 123.7,174.1 123.9,174.9 124.0,175.5 124.7,176.1 125.3,177.3 125.6,176.2 125.9,175.7 126.3,174.3 126.6,173.7 127.5,174.2 128.5,175.4 129.5,175.7 130.5,176.1 131.3,176.2 132.2,176.4 133.0,177.0 133.9,176.7 134.7,176.3 135.6,176.4 136.6,176.3 137.6,176.3 138.5,176.6 139.5,177.0 140.4,177.0 141.2,176.6 142.1,176.3 143.0,176.7 143.8,176.2 144.7,176.4 145.6,176.2 146.5,177.0 147.3,176.8 148.2,176.9 149.1,176.9 150.0,176.8 150.8,176.8 151.7,176.1 152.6,175.9 153.4,176.1 154.3,176.3 155.2,175.9 156.0,176.0 156.9,176.1 157.8,175.2 158.6,175.2 159.5,174.5 160.4,174.3 161.4,174.4 162.1,174.4 162.7,173.5 163.4,172.9 164.0,173.7 164.7,174.0 165.3,174.5 165.8,175.0 166.3,176.0 166.8,176.3 167.3,177.1 168.2,177.9 169.2,178.5 170.1,177.9 170.9,177.7 171.8,177.8 172.8,178.1 173.8,177.8 174.2,177.7 174.7,176.3 175.1,175.6 176.0,175.7 176.8,176.2 177.7,176.5 178.6,176.2 179.4,175.3 180.3,175.2 181.2,175.5 182.2,176.5 183.0,175.8 183.8,175.3 184.7,174.7 185.5,174.7 186.4,174.9 187.4,176.0 187.9,176.6 188.4,177.8 188.9,177.1 189.4,176.4 189.9,176.0 190.4,175.4 191.2,174.8 192.0,174.7 192.8,174.9 193.6,174.2 194.5,174.8 195.3,175.1 196.2,175.8 197.1,174.8 197.9,174.7 198.8,174.4 199.7,173.8 200.5,172.7 201.4,172.8 202.2,172.1 203.1,172.3 203.9,171.9 204.7,171.5 205.5,171.9 206.3,171.9 207.1,171.7 207.9,172.1 208.7,171.6 209.6,171.5 210.4,171.2 211.2,171.0 212.0,170.3 212.8,170.3 213.6,169.8 214.4,170.1 215.3,170.7 216.1,171.3 217.0,171.3 218.0,171.0 219.0,170.3 219.9,169.7 220.7,169.4 221.6,169.6 222.6,169.8 223.5,169.9" fill="none" stroke="#0000ff" stroke-width="1.75" stroke-linejoin="round" stroke-linecap="round" />
<polyline points="33.0,74.6 34.0,75.0 35.0,74.8 36.0,74.6 37.0,74.7 38.0,74.4 39.0,74.4 40.0,74.1 41.0,74.6 42.0,74.4 43.0,74.5 44.0,74.2 45.0,74.1 46.0,73.9 47.0,74.2 48.0,73.8 49.0,73.9 50.0,74.0 51.0,73.7 52.0,73.9 53.0,73.4 54.0,73.5 55.0,74.0 56.0,73.4 57.0,73.3 58.0,73.3 59.0,73.8 60.0,73.3 61.0,73.5 62.0,73.5 63.0,73.7 64.0,73.4 65.0,73.4 66.0,73.0 67.0,73.6 68.0,73.5 69.0,73.3 70.0,73.5 71.0,73.3 72.0,73.3 73.0,73.4 74.0,73.2 75.0,72.7 76.0,73.4 77.0,73.5 78.0,72.8 79.0,72.7 80.0,72.9 81.0,72.7 82.0,72.8 83.0,72.6 84.0,72.7 85.0,72.5 86.0,72.8 87.0,72.7 88.0,73.0 89.0,72.7 90.0,72.5 91.0,73.1 92.0,73.0 93.0,72.8 94.0,72.4 95.0,72.6 96.0,72.6 97.0,72.5 98.0,72.2 99.0,72.5 100.0,72.7 101.0,72.6 102.0,72.8 103.0,72.6 104.0,72.6 105.0,72.7 106.0,72.8 107.0,72.7 108.0,72.5 109.0,72.7 110.0,72.7 111.0,72.9 112.0,72.8 113.0,72.7 114.0,72.5 115.0,72.7 116.0,72.6 117.0,73.0 118.0,73.1 119.0,72.7 120.0,73.1 121.0,73.4 122.0,73.1 123.0,73.0 124.0,73.4 125.0,73.3 126.0,73.2 127.0,73.4 128.0,73.3 129.0,73.5 130.0,73.8 131.0,73.6 132.0,73.7 133.0,74.2 134.0,74.7 135.0,74.7 136.0,74.4 137.0,75.0 138.0,74.4 139.0,74.6 140.0,74.5 141.0,74.7 142.0,75.2 143.0,75.4 144.0,75.2 145.0,75.5 146.0,75.3 147.0,75.6 148.0,75.4 149.0,75.3 150.0,75.0 151.0,75.2 152.0,75.2 153.0,75.4 154.0,74.9 155.0,74.9 156.0,75.2 157.0,74.6 158.0,74.9 159.0,74.6 160.0,74.8 161.0,74.7 162.0,74.3 163.0,74.8 164.0,74.5 165.0,74.4 166.0,74.8 167.0,74.7 168.0,74.3 169.0,74.6 170.0,74.1 171.0,74.4 172.0,74.1 173.0,74.5 174.0,74.7 175.0,74.4 176.0,73.9 177.0,74.3 178.0,74.2 179.0,74.2 180.0,73.9 181.0,73.9 182.0,73.9 183.0,73.5 184.0,73.9 185.0,73.4 186.0,73.3 187.0,73.0 188.0,73.3 189.0,74.0 190.0,73.6 191.0,73.7 192.0,74.1 193.0,74.7 194.0,74.2 195.0,74.5 196.0,74.5 197.0,75.0 198.0,74.9 199.0,74.7 200.0,75.4 201.0,75.1 202.0,75.5 203.0,75.4 204.0,75.8 205.0,75.2 206.0,75.5 207.0,75.6 208.0,75.7 209.0,76.2 210.0,76.0 211.0,76.0 212.0,76.2 213.0,76.5 214.0,76.4 215.0,76.3 216.0,76.6 217.0,76.6 218.0,76.5 219.0,76.5 220.0,76.3 221.0,76.6 222.0,77.0 223.0,76.6" fill="none" stroke="#000000" stroke-width="2.3" stroke-linejoin="round" stroke-linecap="round" />
<path d="M102.4 71.4h1.0v1.0h-1.0z M66.3 72.5h1.0v1.0h-1.0z M117.7 72.9h1.0v1.0h-1.0z M53.7 73.4h1.0v1.0h-1.0z M176.5 74.6h1.0v1.0h-1.0z M48.5 73.7h1.0v1.0h-1.0z M152.1 74.9h1.0v1.0h-1.0z M39.5 75.9h1.0v1.0h-1.0z M119.7 73.5h1.0v1.0h-1.0z M164.8 75.3h1.0v1.0h-1.0z M129.9 75.0h1.0v1.0h-1.0z M150.7 73.8h1.0v1.0h-1.0z M194.0 75.0h1.0v1.0h-1.0z M93.7 73.7h1.0v1.0h-1.0z M151.7 76.8h1.0v1.0h-1.0z M103.4 73.8h1.0v1.0h-1.0z M181.9 76.2h1.0v1.0h-1.0z M107.1 71.6h1.0v1.0h-1.0z M195.8 75.2h1.0v1.0h-1.0z M175.0 74.3h1.0v1.0h-1.0z M171.2 73.6h1.0v1.0h-1.0z M65.9 73.6h1.0v1.0h-1.0z M111.2 73.6h1.0v1.0h-1.0z M81.5 72.5h1.0v1.0h-1.0z M150.7 74.0h1.0v1.0h-1.0z M119.4 73.6h1.0v1.0h-1.0z M87.4 74.6h1.0v1.0h-1.0z M158.2 75.2h1.0v1.0h-1.0z M79.3 71.7h1.0v1.0h-1.0z M128.7 73.7h1.0v1.0h-1.0z M204.2 75.7h1.0v1.0h-1.0z M97.4 71.7h1.0v1.0h-1.0z M149.2 76.5h1.0v1.0h-1.0z M41.6 76.4h1.0v1.0h-1.0z M127.9 73.5h1.0v1.0h-1.0z M41.7 75.6h1.0v1.0h-1.0z M75.6 74.8h1.0v1.0h-1.0z M75.0 73.0h1.0v1.0h-1.0z M119.6 73.5h1.0v1.0h-1.0z M69.4 73.3h1.0v1.0h-1.0z M220.0 76.4h1.0v1.0h-1.0z M45.4 74.8h1.0v1.0h-1.0z M53.9 75.4h1.0v1.0h-1.0z M207.9 75.8h1.0v1.0h-1.0z M191.8 74.3h1.0v1.0h-1.0z M65.1 72.6h1.0v1.0h-1.0z M84.3 73.5h1.0v1.0h-1.0z M169.8 74.7h1.0v1.0h-1.0z M126.3 74.4h1.0v1.0h-1.0z M194.4 74.6h1.0v1.0h-1.0z M194.7 74.4h1.0v1.0h-1.0z M206.2 74.1h1.0v1.0h-1.0z M138.9 73.9h1.0v1.0h-1.0z M86.7 73.7h1.0v1.0h-1.0z M39.9 74.4h1.0v1.0h-1.0z M55.8 74.8h1.0v1.0h-1.0z M48.3 73.9h1.0v1.0h-1.0z M214.8 77.3h1.0v1.0h-1.0z M125.5 74.3h1.0v1.0h-1.0z M145.6 73.9h1.0v1.0h-1.0z M94.2 72.0h1.0v1.0h-1.0z M153.5 75.7h1.0v1.0h-1.0z M195.5 74.9h1.0v1.0h-1.0z M61.4 72.7h1.0v1.0h-1.0z M34.7 74.1h1.0v1.0h-1.0z M34.1 74.4h1.0v1.0h-1.0z M90.4 72.8h1.0v1.0h-1.0z M159.2 75.4h1.0v1.0h-1.0z M144.0 74.9h1.0v1.0h-1.0z M72.2 74.7h1.0v1.0h-1.0z M208.0 76.9h1.0v1.0h-1.0z M166.9 75.4h1.0v1.0h-1.0z M172.2 72.4h1.0v1.0h-1.0z M152.5 75.4h1.0v1.0h-1.0z M164.3 75.1h1.0v1.0h-1.0z M121.5 73.5h1.0v1.0h-1.0z M136.6 75.9h1.0v1.0h-1.0z M98.9 73.5h1.0v1.0h-1.0z M123.3 71.4h1.0v1.0h-1.0z M90.4 72.5h1.0v1.0h-1.0z M139.4 73.7h1.0v1.0h-1.0z M92.3 71.8h1.0v1.0h-1.0z M86.0 71.5h1.0v1.0h-1.0z M155.5 75.3h1.0v1.0h-1.0z M58.4 72.4h1.0v1.0h-1.0z M70.0 73.6h1.0v1.0h-1.0z M52.4 73.9h1.0v1.0h-1.0z M127.7 73.5h1.0v1.0h-1.0z M89.0 73.6h1.0v1.0h-1.0z M63.7 73.6h1.0v1.0h-1.0z M109.0 72.9h1.0v1.0h-1.0z M99.8 72.3h1.0v1.0h-1.0z M165.0 74.4h1.0v1.0h-1.0z M76.5 72.9h1.0v1.0h-1.0z M86.4 73.7h1.0v1.0h-1.0z M81.9 72.3h1.0v1.0h-1.0z M124.2 72.8h1.0v1.0h-1.0z M159.7 74.8h1.0v1.0h-1.0z M170.0 73.2h1.0v1.0h-1.0z M179.4 74.4h1.0v1.0h-1.0z M214.7 76.1h1.0v1.0h-1.0z M129.0 73.5h1.0v1.0h-1.0z M158.8 74.1h1.0v1.0h-1.0z M102.9 73.8h1.0v1.0h-1.0z M150.1 74.2h1.0v1.0h-1.0z M208.8 75.0h1.0v1.0h-1.0z M167.5 74.1h1.0v1.0h-1.0z M76.8 71.6h1.0v1.0h-1.0z M149.7 75.0h1.0v1.0h-1.0z M176.3 74.1h1.0v1.0h-1.0z M76.1 71.9h1.0v1.0h-1.0z M170.2 74.5h1.0v1.0h-1.0z M178.4 71.9h1.0v1.0h-1.0z M117.2 73.4h1.0v1.0h-1.0z M140.6 75.9h1.0v1.0h-1.0z M168.7 74.4h1.0v1.0h-1.0z M214.7 77.9h1.0v1.0h-1.0z M156.9 75.8h1.0v1.0h-1.0z M135.5 75.0h1.0v1.0h-1.0z M60.9 71.6h1.0v1.0h-1.0z" fill="#000000"/>
<polyline points="343.3,102.2 343.9,100.0 344.4,97.8 345.0,98.5 345.5,98.3 346.1,98.8 346.6,97.1 347.2,98.9 347.7,101.1 348.3,101.7 348.8,101.2 349.4,99.9 349.9,101.4 350.5,100.7 351.0,101.2 351.6,101.3 352.1,102.1 352.7,101.8 353.2,102.9 353.8,101.9 354.3,102.3 354.9,103.4 355.4,103.2 356.0,101.6 356.5,104.5 357.1,102.5 357.6,103.1 358.2,101.7 358.7,102.2 359.3,104.5 359.8,102.5 360.4,102.5 360.9,104.1 361.5,102.2 362.0,103.4 362.6,103.0 363.1,104.0 363.7,102.6 364.2,102.2 364.8,101.9 365.3,102.3 365.9,101.1 366.4,101.4 367.0,101.4 367.5,101.9 368.1,103.3 368.6,103.8 369.2,101.8 369.7,101.4 370.3,101.5 370.8,102.6 371.4,102.1 371.9,101.0 372.5,102.3 373.0,101.4 373.6,100.8 374.1,102.7 374.7,100.3 375.2,101.2 375.8,102.1 376.3,100.8 376.9,101.2 377.4,98.9 378.0,101.1 378.5,98.5 379.1,101.5 379.6,100.3 380.2,99.1 380.7,100.0 381.3,102.3 381.8,101.5 382.4,101.6 382.9,101.8 383.5,99.3 384.0,100.3 384.6,100.6 385.1,101.5 385.7,101.0 386.2,98.1 386.8,100.2 387.3,98.1 387.9,96.5 388.4,95.6 389.0,97.5 389.5,98.6 390.1,99.1 390.6,98.6 391.2,100.7 391.7,99.2 392.3,98.7 392.8,100.3 393.4,98.7 393.9,99.4 394.5,98.6 395.0,99.2 395.6,101.8 396.1,100.6 396.7,100.3 397.2,100.8 397.8,100.8 398.3,100.3 398.9,99.9 399.4,99.2 400.0,99.0 400.5,99.4 401.1,100.4 401.6,99.2 402.2,101.4 402.7,100.4 403.3,100.2 403.8,100.7 404.4,101.5 404.9,100.8 405.5,103.1 406.0,102.2 406.6,101.1 407.1,101.3 407.7,104.1 408.2,103.2 408.8,102.3 409.3,103.6 409.9,101.5 410.4,104.2 411.0,104.4 411.5,103.5 412.1,101.3 412.6,102.0 413.2,102.7 413.7,101.4 414.3,99.6 414.8,99.3 415.4,98.4 415.9,99.5 416.5,98.1 417.0,98.6 417.6,99.8 418.1,99.4 418.7,98.6 419.2,100.1 419.8,98.7 420.3,101.9 420.9,102.3 421.4,101.7 422.0,103.4 422.5,101.2 423.1,103.1 423.6,100.7 424.2,102.4 424.7,101.8 425.3,101.8 425.8,101.2 426.4,99.4 426.9,100.3 427.5,101.8 428.0,102.9 428.6,102.1 429.1,99.7 429.7,100.4 430.2,100.1 430.8,99.2 431.3,99.1 431.9,100.5 432.4,100.7 433.0,101.0 433.5,102.1 434.1,104.4 434.6,103.8 435.2,104.5 435.7,105.3 436.3,102.6 436.8,105.5 437.4,103.1 437.9,102.8 438.5,103.9 439.0,103.3 439.6,102.2 440.1,101.2 440.7,101.3 441.2,100.3 441.8,100.0 442.3,100.6 442.9,100.7 443.4,100.9 444.0,104.3 444.5,104.7 445.1,102.7 445.6,102.7 446.2,102.1 446.7,103.5 447.3,102.5 447.8,101.3 448.4,103.5 448.9,103.8 449.5,101.1 450.0,102.6 450.6,101.4 451.1,102.4 451.7,101.2 452.2,100.6 452.8,102.5 453.3,105.8 453.9,106.8 454.4,106.9 455.0,107.8 455.5,107.8 456.1,110.0 456.6,109.1 457.2,110.9 457.7,111.0 458.3,109.2 458.8,108.3 459.4,108.4 459.9,107.7 460.5,105.7 461.0,106.0 461.6,104.7 462.1,103.9 462.7,105.7 463.2,104.4 463.8,104.0 464.3,103.1 464.9,103.0 465.4,104.9 466.0,103.8 466.5,104.2 467.1,105.2 467.6,106.1 468.2,105.7 468.7,104.3 469.3,107.0 469.8,104.6 470.4,106.1 470.9,106.5 471.5,105.5 472.0,107.6 472.6,106.8 473.1,107.3 473.7,105.5 474.2,107.9 474.8,106.3 475.3,107.4 475.9,107.9 476.4,106.7 477.0,106.6 477.5,107.0 478.1,109.2 478.6,108.4 479.2,108.0 479.7,108.5 480.3,109.0 480.8,108.0 481.4,107.6 481.9,107.9 482.5,109.6 483.0,109.9 483.6,111.3 484.1,110.4 484.7,111.3 485.2,112.0 485.8,110.7 486.3,110.6 486.9,111.0 487.4,110.9 488.0,112.4 488.5,112.1 489.1,110.8 489.6,113.5 490.2,112.1 490.7,112.8 491.3,112.1 491.8,112.2 492.4,112.1 492.9,110.6 493.5,110.6 494.0,112.5 494.6,111.3 495.1,110.5 495.7,112.7 496.2,112.4 496.8,112.4 497.3,111.2 497.9,110.3 498.4,112.3 499.0,110.5 499.5,111.9 500.1,112.0 500.6,110.6 501.2,109.9 501.7,112.3 502.3,113.3 502.8,113.2 503.4,114.9 503.9,112.9 504.5,115.0 505.0,114.3 505.6,115.0 506.1,114.4 506.7,114.5 507.2,115.3 507.8,115.1 508.3,115.7" fill="none" stroke="#ff00ff" stroke-width="2.5" stroke-linejoin="round" stroke-linecap="round" />
<path d="M343.8 99.2L343.8 90.0 M344.6 96.1L344.6 91.5 M345.4 96.6L345.4 93.0 M346.5 97.6L346.5 94.0 M349.0 99.7L349.0 96.5 M352.5 100.4L352.5 97.5 M361.5 102.3L361.5 89.8 M362.0 102.2L362.0 93.0 M371.0 101.5L371.0 96.0 M378.0 99.0L378.0 94.4 M387.2 97.3L387.2 91.2 M394.0 99.0L394.0 96.0 M397.0 99.5L397.0 96.5 M418.2 97.4L418.2 95.8 M441.0 99.7L441.0 97.5 M452.3 100.5L452.3 96.8 M466.0 103.6L466.0 101.5 M472.0 105.7L472.0 101.5 M478.0 107.0L478.0 102.0 M486.0 110.1L486.0 102.5" fill="none" stroke="#ff00ff" stroke-width="1.4" stroke-linecap="round"/>
<path d="M443.1 99.4h1.1v1.1h-1.1z M447.0 101.9h1.1v1.1h-1.1z M410.7 102.1h1.1v1.1h-1.1z M407.2 104.1h1.1v1.1h-1.1z M349.5 100.4h1.1v1.1h-1.1z M456.7 109.9h1.1v1.1h-1.1z M451.7 98.3h1.1v1.1h-1.1z M397.2 99.7h1.1v1.1h-1.1z M401.3 100.0h1.1v1.1h-1.1z M413.7 98.3h1.1v1.1h-1.1z M490.2 113.0h1.1v1.1h-1.1z M485.1 110.0h1.1v1.1h-1.1z M488.5 112.0h1.1v1.1h-1.1z M431.4 101.6h1.1v1.1h-1.1z M497.8 109.8h1.1v1.1h-1.1z M449.3 103.6h1.1v1.1h-1.1z M506.9 113.9h1.1v1.1h-1.1z M363.9 103.2h1.1v1.1h-1.1z M456.3 110.6h1.1v1.1h-1.1z M367.4 103.0h1.1v1.1h-1.1z M374.8 102.4h1.1v1.1h-1.1z M468.0 103.8h1.1v1.1h-1.1z M400.4 99.9h1.1v1.1h-1.1z M505.7 115.5h1.1v1.1h-1.1z M375.0 103.2h1.1v1.1h-1.1z M455.7 105.8h1.1v1.1h-1.1z M387.2 97.0h1.1v1.1h-1.1z M441.2 96.9h1.1v1.1h-1.1z M379.7 97.1h1.1v1.1h-1.1z M440.9 97.4h1.1v1.1h-1.1z M368.0 102.3h1.1v1.1h-1.1z M351.2 101.9h1.1v1.1h-1.1z M343.5 99.7h1.1v1.1h-1.1z M424.8 100.7h1.1v1.1h-1.1z M355.4 100.4h1.1v1.1h-1.1z M395.7 98.7h1.1v1.1h-1.1z M439.4 98.9h1.1v1.1h-1.1z M438.5 102.0h1.1v1.1h-1.1z M448.7 99.2h1.1v1.1h-1.1z M359.2 101.5h1.1v1.1h-1.1z M362.1 104.0h1.1v1.1h-1.1z M344.6 94.1h1.1v1.1h-1.1z M491.0 109.1h1.1v1.1h-1.1z M459.1 105.2h1.1v1.1h-1.1z M405.4 103.1h1.1v1.1h-1.1z M460.6 107.4h1.1v1.1h-1.1z M421.0 100.4h1.1v1.1h-1.1z M497.9 112.1h1.1v1.1h-1.1z M419.8 100.3h1.1v1.1h-1.1z M504.9 117.7h1.1v1.1h-1.1z M372.5 102.2h1.1v1.1h-1.1z M407.2 104.1h1.1v1.1h-1.1z M421.6 100.8h1.1v1.1h-1.1z M441.5 99.1h1.1v1.1h-1.1z M377.0 99.4h1.1v1.1h-1.1z M414.0 101.9h1.1v1.1h-1.1z M491.1 113.2h1.1v1.1h-1.1z M386.6 100.6h1.1v1.1h-1.1z M399.9 100.7h1.1v1.1h-1.1z M505.3 114.7h1.1v1.1h-1.1z" fill="#ff00ff"/>
<polyline points="343.3,107.5 343.8,109.2 344.3,109.7 344.8,108.7 345.3,106.8 345.8,107.7 346.3,106.8 346.8,107.0 347.3,107.3 347.8,106.7 348.3,108.6 348.8,108.0 349.3,107.2 349.8,107.0 350.3,106.6 350.8,106.5 351.3,107.7 351.8,106.4 352.3,108.0 352.8,107.0 353.3,108.8 353.8,107.0 354.3,109.1 354.8,109.5 355.3,109.4 355.8,106.9 356.3,109.4 356.8,107.7 357.3,109.2 357.8,107.7 358.3,108.0 358.8,106.9 359.3,108.7 359.8,107.3 360.3,109.2 360.8,108.5 361.3,107.5 361.8,106.1 362.3,106.9 362.8,107.4 363.3,107.3 363.8,108.0 364.3,105.9 364.8,107.6 365.3,109.1 365.8,109.3 366.3,108.4 366.8,108.3 367.3,108.0 367.8,109.4 368.3,108.7 368.8,107.5 369.3,107.6 369.8,109.2 370.3,107.8 370.8,107.9 371.3,106.8 371.8,108.1 372.3,107.4 372.8,109.1 373.3,109.2 373.8,109.2 374.3,109.0 374.8,105.7 375.3,105.8 375.8,106.7 376.3,108.5 376.8,107.5 377.3,106.4 377.8,105.8 378.3,106.3 378.8,105.8 379.3,105.9 379.8,108.0 380.3,106.0 380.8,105.9 381.3,107.5 381.8,105.7 382.3,108.2 382.8,107.6 383.3,108.4 383.8,107.8 384.3,107.8 384.8,106.1 385.3,106.7 385.8,106.5 386.3,106.5 386.8,108.4 387.3,106.7 387.8,107.9 388.3,107.3 388.8,105.3 389.3,105.8 389.8,107.1 390.3,107.8 390.8,105.8 391.3,105.9 391.8,106.3 392.3,106.6 392.8,106.5 393.3,108.3 393.8,107.1 394.3,105.9 394.8,106.1 395.3,106.7 395.8,105.5 396.3,106.3 396.8,105.1 397.3,107.2 397.8,108.0 398.3,108.1 398.8,107.0 399.3,106.2 399.8,106.8 400.3,106.8 400.8,105.4 401.3,106.7 401.8,106.6 402.3,105.5 402.8,106.4 403.3,107.8 403.8,107.1 404.3,106.0 404.8,105.7 405.3,107.1 405.8,106.8 406.3,105.9 406.8,106.5 407.3,106.3 407.8,107.1 408.3,108.0 408.8,106.1 409.3,106.7 409.8,106.8 410.3,107.2 410.8,105.7 411.3,105.7 411.8,108.1 412.3,105.3 412.8,107.3 413.3,105.8 413.8,106.6 414.3,106.5 414.8,105.7 415.3,105.5 415.8,108.4 416.3,105.1 416.8,105.5 417.3,107.6 417.8,106.3 418.3,105.7 418.8,107.8 419.3,108.6 419.8,105.8 420.3,107.6 420.8,106.5 421.3,108.7 421.8,107.3 422.3,108.4 422.8,107.6 423.3,105.7 423.8,106.8 424.3,107.8 424.8,105.8 425.3,105.6 425.8,108.9 426.3,108.6 426.8,107.6 427.3,105.5 427.8,107.8 428.3,108.8 428.8,108.0 429.3,107.8 429.8,106.8 430.3,107.5 430.8,108.5 431.3,107.0 431.8,105.4 432.3,105.7 432.8,108.6 433.3,107.7 433.8,108.5 434.3,105.6 434.8,105.5 435.3,107.5 435.8,106.6 436.3,106.7 436.8,105.9 437.3,107.8 437.8,107.8 438.3,107.6 438.8,106.5 439.3,106.8 439.8,106.4 440.3,106.7 440.8,106.2 441.3,106.7 441.8,108.4 442.3,107.9 442.8,105.5 443.3,107.4 443.8,107.9 444.3,106.2 444.8,108.1 445.3,108.3 445.8,105.2 446.3,107.2 446.8,106.3 447.3,106.6 447.8,106.9 448.3,108.0 448.8,107.2 449.3,108.1 449.8,105.8 450.3,107.8 450.8,106.3 451.3,105.6 451.8,107.8 452.3,107.0 452.8,105.8 453.3,108.2 453.8,106.7 454.3,107.4 454.8,108.5 455.3,106.2 455.8,107.0 456.3,107.0 456.8,106.1 457.3,107.0 457.8,108.5 458.3,107.6 458.8,106.0 459.3,107.5 459.8,107.3 460.3,106.3 460.8,107.3 461.3,106.1 461.8,107.4 462.3,105.8 462.8,107.2 463.3,105.2 463.8,104.6 464.3,105.0 464.8,104.1 465.3,106.7 465.8,106.9 466.3,104.8 466.8,104.1 467.3,106.3 467.8,106.1 468.3,103.9 468.8,104.1 469.3,104.7 469.8,103.3 470.3,103.5 470.8,104.1 471.3,103.1 471.8,103.1 472.3,104.8 472.8,103.7 473.3,106.0 473.8,106.1 474.3,105.1 474.8,103.7 475.3,105.5 475.8,104.0 476.3,105.9 476.8,104.3 477.3,105.3 477.8,105.5 478.3,105.4 478.8,105.6 479.3,104.1 479.8,103.4 480.3,104.2 480.8,106.4 481.3,103.1 481.8,104.0 482.3,104.1 482.8,104.6 483.3,106.1 483.8,103.6 484.3,103.4 484.8,103.2 485.3,104.4 485.8,105.8 486.3,104.9 486.8,105.6 487.3,105.1 487.8,104.6 488.3,104.8 488.8,103.6 489.3,106.9 489.8,106.1 490.3,103.9 490.8,104.3 491.3,106.4 491.8,105.5 492.3,106.4 492.8,106.4 493.3,104.3 493.8,106.8 494.3,104.6 494.8,104.4 495.3,106.6 495.8,106.8 496.3,105.0 496.8,105.3 497.3,106.5 497.8,105.0 498.3,105.5 498.8,107.5 499.3,104.4 499.8,107.3 500.3,107.1 500.8,107.5 501.3,104.8 501.8,104.6 502.3,105.5 502.8,104.5 503.3,107.2 503.8,106.0 504.3,106.9 504.8,105.7 505.3,105.7 505.8,107.3 506.3,104.4 506.8,104.7 507.3,107.0 507.8,106.0" fill="none" stroke="#000000" stroke-width="3.0" stroke-linejoin="round" stroke-linecap="round" />
<path d="M472.1 107.7h1.1v1.1h-1.1z M443.8 106.7h1.1v1.1h-1.1z M467.1 103.7h1.1v1.1h-1.1z M396.9 106.4h1.1v1.1h-1.1z M495.6 105.2h1.1v1.1h-1.1z M449.0 106.6h1.1v1.1h-1.1z M507.0 104.1h1.1v1.1h-1.1z M418.4 105.2h1.1v1.1h-1.1z M447.2 105.1h1.1v1.1h-1.1z M492.1 104.0h1.1v1.1h-1.1z M489.4 105.9h1.1v1.1h-1.1z M461.7 103.4h1.1v1.1h-1.1z M375.8 105.8h1.1v1.1h-1.1z M377.0 107.3h1.1v1.1h-1.1z M499.8 106.1h1.1v1.1h-1.1z M480.7 108.2h1.1v1.1h-1.1z M410.0 107.8h1.1v1.1h-1.1z M449.6 106.9h1.1v1.1h-1.1z M460.1 105.3h1.1v1.1h-1.1z M370.1 109.6h1.1v1.1h-1.1z M451.6 107.4h1.1v1.1h-1.1z M436.0 103.6h1.1v1.1h-1.1z M437.8 108.3h1.1v1.1h-1.1z M410.2 106.6h1.1v1.1h-1.1z M355.2 112.1h1.1v1.1h-1.1z M455.9 108.9h1.1v1.1h-1.1z M435.9 105.4h1.1v1.1h-1.1z M447.9 103.2h1.1v1.1h-1.1z M413.6 102.7h1.1v1.1h-1.1z M500.4 108.9h1.1v1.1h-1.1z M368.3 108.8h1.1v1.1h-1.1z M399.9 104.1h1.1v1.1h-1.1z M457.7 106.4h1.1v1.1h-1.1z M435.4 110.0h1.1v1.1h-1.1z M439.7 110.6h1.1v1.1h-1.1z M500.8 107.1h1.1v1.1h-1.1z M468.7 104.0h1.1v1.1h-1.1z M362.5 110.7h1.1v1.1h-1.1z M433.3 105.7h1.1v1.1h-1.1z M391.0 108.6h1.1v1.1h-1.1z M355.0 106.6h1.1v1.1h-1.1z M372.2 108.0h1.1v1.1h-1.1z M397.9 106.9h1.1v1.1h-1.1z M503.7 106.0h1.1v1.1h-1.1z M352.4 109.4h1.1v1.1h-1.1z M363.2 106.5h1.1v1.1h-1.1z M414.0 106.0h1.1v1.1h-1.1z M432.7 106.9h1.1v1.1h-1.1z M344.5 107.1h1.1v1.1h-1.1z M482.4 107.6h1.1v1.1h-1.1z M372.6 103.6h1.1v1.1h-1.1z M395.2 109.2h1.1v1.1h-1.1z M362.7 107.8h1.1v1.1h-1.1z M400.1 110.4h1.1v1.1h-1.1z M452.9 109.2h1.1v1.1h-1.1z M375.8 106.3h1.1v1.1h-1.1z M422.5 106.0h1.1v1.1h-1.1z M444.6 108.7h1.1v1.1h-1.1z M504.1 104.8h1.1v1.1h-1.1z M476.9 102.5h1.1v1.1h-1.1z M426.8 108.1h1.1v1.1h-1.1z M387.8 109.5h1.1v1.1h-1.1z M378.3 105.5h1.1v1.1h-1.1z M348.6 109.3h1.1v1.1h-1.1z M402.7 108.8h1.1v1.1h-1.1z M403.9 106.0h1.1v1.1h-1.1z M418.5 106.1h1.1v1.1h-1.1z M410.0 104.5h1.1v1.1h-1.1z M438.9 106.3h1.1v1.1h-1.1z M413.1 109.5h1.1v1.1h-1.1z M459.5 105.3h1.1v1.1h-1.1z M375.6 109.5h1.1v1.1h-1.1z M423.2 106.7h1.1v1.1h-1.1z M364.1 107.7h1.1v1.1h-1.1z M419.1 107.2h1.1v1.1h-1.1z M482.3 101.3h1.1v1.1h-1.1z M476.1 105.8h1.1v1.1h-1.1z M368.2 107.4h1.1v1.1h-1.1z M366.1 108.0h1.1v1.1h-1.1z M395.5 105.5h1.1v1.1h-1.1z M366.1 108.8h1.1v1.1h-1.1z M382.1 106.3h1.1v1.1h-1.1z M441.2 106.6h1.1v1.1h-1.1z M438.8 106.3h1.1v1.1h-1.1z M430.6 104.8h1.1v1.1h-1.1z M474.7 103.7h1.1v1.1h-1.1z M478.8 105.7h1.1v1.1h-1.1z M350.2 106.6h1.1v1.1h-1.1z M420.8 109.6h1.1v1.1h-1.1z M422.3 107.4h1.1v1.1h-1.1z M466.3 106.6h1.1v1.1h-1.1z M457.5 104.2h1.1v1.1h-1.1z M398.1 106.2h1.1v1.1h-1.1z M379.4 104.4h1.1v1.1h-1.1z M486.4 102.7h1.1v1.1h-1.1z M375.8 107.7h1.1v1.1h-1.1z M480.2 101.6h1.1v1.1h-1.1z M482.0 105.3h1.1v1.1h-1.1z M428.8 105.2h1.1v1.1h-1.1z M382.4 105.9h1.1v1.1h-1.1z M474.9 105.0h1.1v1.1h-1.1z M348.7 107.7h1.1v1.1h-1.1z M420.7 108.7h1.1v1.1h-1.1z M399.6 107.6h1.1v1.1h-1.1z M383.0 107.4h1.1v1.1h-1.1z M495.1 103.2h1.1v1.1h-1.1z M375.3 105.4h1.1v1.1h-1.1z M470.6 106.3h1.1v1.1h-1.1z M413.8 107.4h1.1v1.1h-1.1z M436.9 108.6h1.1v1.1h-1.1z M502.6 103.6h1.1v1.1h-1.1z M480.6 101.7h1.1v1.1h-1.1z M413.9 103.1h1.1v1.1h-1.1z M462.4 106.0h1.1v1.1h-1.1z M409.1 107.8h1.1v1.1h-1.1z M391.5 109.6h1.1v1.1h-1.1z M386.9 106.9h1.1v1.1h-1.1z M449.8 109.6h1.1v1.1h-1.1z M497.6 103.9h1.1v1.1h-1.1z M489.0 104.1h1.1v1.1h-1.1z M366.1 102.9h1.1v1.1h-1.1z M398.2 103.7h1.1v1.1h-1.1z M368.4 108.0h1.1v1.1h-1.1z M463.9 106.0h1.1v1.1h-1.1z M411.2 108.1h1.1v1.1h-1.1z M347.6 104.7h1.1v1.1h-1.1z M393.8 106.6h1.1v1.1h-1.1z M348.0 109.4h1.1v1.1h-1.1z M385.3 105.8h1.1v1.1h-1.1z M430.8 108.7h1.1v1.1h-1.1z M505.5 106.5h1.1v1.1h-1.1z M492.1 106.1h1.1v1.1h-1.1z M390.7 105.2h1.1v1.1h-1.1z M490.8 105.0h1.1v1.1h-1.1z M497.2 104.9h1.1v1.1h-1.1z M404.5 106.2h1.1v1.1h-1.1z M459.2 105.5h1.1v1.1h-1.1z M408.7 106.0h1.1v1.1h-1.1z M353.4 105.0h1.1v1.1h-1.1z M407.1 108.6h1.1v1.1h-1.1z M420.1 108.4h1.1v1.1h-1.1z M412.0 109.2h1.1v1.1h-1.1z M406.8 106.8h1.1v1.1h-1.1z M356.1 106.3h1.1v1.1h-1.1z M449.0 106.7h1.1v1.1h-1.1z M400.1 106.0h1.1v1.1h-1.1z M489.2 103.3h1.1v1.1h-1.1z M364.7 107.6h1.1v1.1h-1.1z M390.8 103.2h1.1v1.1h-1.1z M452.4 104.5h1.1v1.1h-1.1z M502.8 105.1h1.1v1.1h-1.1z M399.5 107.0h1.1v1.1h-1.1z M403.6 107.3h1.1v1.1h-1.1z M493.3 105.8h1.1v1.1h-1.1z M490.8 105.9h1.1v1.1h-1.1z M504.8 106.3h1.1v1.1h-1.1z M370.8 107.1h1.1v1.1h-1.1z M377.6 108.5h1.1v1.1h-1.1z M348.4 104.7h1.1v1.1h-1.1z M355.0 108.6h1.1v1.1h-1.1z M424.2 109.3h1.1v1.1h-1.1z M492.2 108.0h1.1v1.1h-1.1z M487.4 104.1h1.1v1.1h-1.1z M461.4 106.2h1.1v1.1h-1.1z M354.8 108.1h1.1v1.1h-1.1z M490.3 103.7h1.1v1.1h-1.1z M390.2 106.7h1.1v1.1h-1.1z M382.7 104.8h1.1v1.1h-1.1z M424.2 106.0h1.1v1.1h-1.1z M433.3 107.4h1.1v1.1h-1.1z M431.0 106.4h1.1v1.1h-1.1z M444.5 105.1h1.1v1.1h-1.1z M375.9 105.9h1.1v1.1h-1.1z M472.7 104.2h1.1v1.1h-1.1z M374.7 107.2h1.1v1.1h-1.1z M392.6 107.4h1.1v1.1h-1.1z M432.4 107.1h1.1v1.1h-1.1z M490.4 106.3h1.1v1.1h-1.1z M394.4 107.1h1.1v1.1h-1.1z M481.9 106.6h1.1v1.1h-1.1z M466.3 107.0h1.1v1.1h-1.1z M398.4 105.3h1.1v1.1h-1.1z M425.9 109.8h1.1v1.1h-1.1z M481.5 105.8h1.1v1.1h-1.1z M494.1 106.9h1.1v1.1h-1.1z M475.7 102.1h1.1v1.1h-1.1z M391.3 105.7h1.1v1.1h-1.1z M497.5 105.3h1.1v1.1h-1.1z M427.7 109.5h1.1v1.1h-1.1z M445.5 111.6h1.1v1.1h-1.1z M378.3 108.7h1.1v1.1h-1.1z M445.8 104.5h1.1v1.1h-1.1z M487.9 104.5h1.1v1.1h-1.1z M437.2 108.2h1.1v1.1h-1.1z M376.8 106.6h1.1v1.1h-1.1z M376.3 105.2h1.1v1.1h-1.1z M363.8 109.0h1.1v1.1h-1.1z M493.9 107.7h1.1v1.1h-1.1z M474.6 105.9h1.1v1.1h-1.1z M475.2 102.5h1.1v1.1h-1.1z M397.7 103.9h1.1v1.1h-1.1z M385.9 110.0h1.1v1.1h-1.1z M446.0 106.2h1.1v1.1h-1.1z M436.6 106.6h1.1v1.1h-1.1z M474.6 106.0h1.1v1.1h-1.1z M491.3 104.1h1.1v1.1h-1.1z M349.6 110.3h1.1v1.1h-1.1z M476.8 103.0h1.1v1.1h-1.1z M417.1 103.7h1.1v1.1h-1.1z M380.1 105.2h1.1v1.1h-1.1z M373.5 107.5h1.1v1.1h-1.1z M380.8 103.2h1.1v1.1h-1.1z M433.4 105.3h1.1v1.1h-1.1z M482.2 104.7h1.1v1.1h-1.1z M389.9 107.2h1.1v1.1h-1.1z M367.4 105.7h1.1v1.1h-1.1z M501.7 106.2h1.1v1.1h-1.1z M348.1 108.6h1.1v1.1h-1.1z M401.1 107.7h1.1v1.1h-1.1z M498.3 105.9h1.1v1.1h-1.1z M385.2 106.7h1.1v1.1h-1.1z M345.5 106.7h1.1v1.1h-1.1z M344.5 111.4h1.1v1.1h-1.1z M418.5 110.1h1.1v1.1h-1.1z M384.4 109.6h1.1v1.1h-1.1z M395.4 107.5h1.1v1.1h-1.1z M373.0 104.7h1.1v1.1h-1.1z M399.6 107.8h1.1v1.1h-1.1z M435.7 107.8h1.1v1.1h-1.1z M350.2 110.1h1.1v1.1h-1.1z M495.3 107.9h1.1v1.1h-1.1z M421.3 105.9h1.1v1.1h-1.1z M408.7 106.6h1.1v1.1h-1.1z M460.2 104.3h1.1v1.1h-1.1z M416.3 104.3h1.1v1.1h-1.1z M373.1 109.2h1.1v1.1h-1.1z M399.6 106.7h1.1v1.1h-1.1z M485.5 106.2h1.1v1.1h-1.1z M394.7 106.7h1.1v1.1h-1.1z M495.6 105.1h1.1v1.1h-1.1z M420.5 106.9h1.1v1.1h-1.1z M442.7 105.9h1.1v1.1h-1.1z M477.0 104.4h1.1v1.1h-1.1z M406.4 107.4h1.1v1.1h-1.1z M470.0 104.7h1.1v1.1h-1.1z M396.7 106.0h1.1v1.1h-1.1z M494.1 105.4h1.1v1.1h-1.1z M486.3 105.8h1.1v1.1h-1.1z M478.3 101.9h1.1v1.1h-1.1z M467.0 106.0h1.1v1.1h-1.1z M481.1 105.9h1.1v1.1h-1.1z M495.4 108.6h1.1v1.1h-1.1z M473.2 102.6h1.1v1.1h-1.1z M504.6 105.4h1.1v1.1h-1.1z M506.9 106.5h1.1v1.1h-1.1z M490.4 103.2h1.1v1.1h-1.1z M487.3 104.1h1.1v1.1h-1.1z M444.1 106.7h1.1v1.1h-1.1z M365.5 106.4h1.1v1.1h-1.1z M426.0 109.2h1.1v1.1h-1.1z M449.4 108.7h1.1v1.1h-1.1z M394.4 102.5h1.1v1.1h-1.1z M500.5 104.9h1.1v1.1h-1.1z M467.8 106.5h1.1v1.1h-1.1z M504.0 102.3h1.1v1.1h-1.1z M479.3 104.5h1.1v1.1h-1.1z M395.2 103.4h1.1v1.1h-1.1z M346.7 104.9h1.1v1.1h-1.1z M363.7 109.4h1.1v1.1h-1.1z M412.4 104.8h1.1v1.1h-1.1z M473.9 103.5h1.1v1.1h-1.1z M400.9 107.0h1.1v1.1h-1.1z M468.6 103.4h1.1v1.1h-1.1z M345.1 106.2h1.1v1.1h-1.1z M507.4 107.0h1.1v1.1h-1.1z M473.4 105.2h1.1v1.1h-1.1z M497.7 105.0h1.1v1.1h-1.1z M466.2 103.3h1.1v1.1h-1.1z M453.3 103.8h1.1v1.1h-1.1z M434.3 105.3h1.1v1.1h-1.1z M431.9 106.8h1.1v1.1h-1.1z M360.9 111.1h1.1v1.1h-1.1z M359.0 107.4h1.1v1.1h-1.1z M487.4 104.7h1.1v1.1h-1.1z M375.0 105.9h1.1v1.1h-1.1z M422.7 107.3h1.1v1.1h-1.1z M444.8 107.5h1.1v1.1h-1.1z M503.5 107.9h1.1v1.1h-1.1z M367.9 107.9h1.1v1.1h-1.1z M360.9 109.0h1.1v1.1h-1.1z M345.3 112.7h1.1v1.1h-1.1z M349.7 106.7h1.1v1.1h-1.1z M480.5 103.6h1.1v1.1h-1.1z M488.7 104.6h1.1v1.1h-1.1z M362.4 105.9h1.1v1.1h-1.1z M458.4 104.7h1.1v1.1h-1.1z M382.3 108.6h1.1v1.1h-1.1z M391.7 108.9h1.1v1.1h-1.1z M443.0 106.7h1.1v1.1h-1.1z M462.8 105.6h1.1v1.1h-1.1z M504.5 103.7h1.1v1.1h-1.1z M397.6 108.1h1.1v1.1h-1.1z M488.2 105.3h1.1v1.1h-1.1z M426.1 107.9h1.1v1.1h-1.1z M416.5 105.6h1.1v1.1h-1.1z M496.2 105.2h1.1v1.1h-1.1z M431.3 104.5h1.1v1.1h-1.1z M349.6 109.9h1.1v1.1h-1.1z M495.0 106.4h1.1v1.1h-1.1z M418.0 105.5h1.1v1.1h-1.1z M349.7 109.3h1.1v1.1h-1.1z M441.5 101.8h1.1v1.1h-1.1z M504.4 101.9h1.1v1.1h-1.1z M482.3 105.4h1.1v1.1h-1.1z M495.8 103.5h1.1v1.1h-1.1z M349.0 108.5h1.1v1.1h-1.1z M500.0 107.8h1.1v1.1h-1.1z M442.6 108.1h1.1v1.1h-1.1z M372.0 106.6h1.1v1.1h-1.1z M344.8 109.3h1.1v1.1h-1.1z M409.2 104.4h1.1v1.1h-1.1z M458.5 108.9h1.1v1.1h-1.1z M499.4 106.7h1.1v1.1h-1.1z M443.9 105.7h1.1v1.1h-1.1z M457.4 107.1h1.1v1.1h-1.1z M398.0 105.6h1.1v1.1h-1.1z M444.4 105.1h1.1v1.1h-1.1z M411.5 110.5h1.1v1.1h-1.1z M459.9 110.6h1.1v1.1h-1.1z M503.5 107.4h1.1v1.1h-1.1z M502.2 103.7h1.1v1.1h-1.1z M505.2 108.7h1.1v1.1h-1.1z M360.9 110.3h1.1v1.1h-1.1z M506.1 107.0h1.1v1.1h-1.1z M348.3 109.4h1.1v1.1h-1.1z M421.5 104.6h1.1v1.1h-1.1z M366.8 105.4h1.1v1.1h-1.1z M376.5 107.2h1.1v1.1h-1.1z M491.6 105.4h1.1v1.1h-1.1z M445.7 105.6h1.1v1.1h-1.1z M441.8 111.7h1.1v1.1h-1.1z M489.8 103.3h1.1v1.1h-1.1z M352.3 106.9h1.1v1.1h-1.1z M467.0 105.5h1.1v1.1h-1.1z M356.9 109.1h1.1v1.1h-1.1z M449.1 104.4h1.1v1.1h-1.1z M498.9 107.8h1.1v1.1h-1.1z M446.7 104.5h1.1v1.1h-1.1z M433.3 106.5h1.1v1.1h-1.1z M375.6 107.3h1.1v1.1h-1.1z M456.7 105.0h1.1v1.1h-1.1z M482.6 105.8h1.1v1.1h-1.1z M406.9 106.1h1.1v1.1h-1.1z M480.3 101.3h1.1v1.1h-1.1z M382.0 105.4h1.1v1.1h-1.1z M440.0 105.5h1.1v1.1h-1.1z M357.5 108.4h1.1v1.1h-1.1z M472.5 105.8h1.1v1.1h-1.1z M472.3 102.5h1.1v1.1h-1.1z M415.9 108.5h1.1v1.1h-1.1z M431.8 106.8h1.1v1.1h-1.1z M501.0 107.4h1.1v1.1h-1.1z M489.0 105.9h1.1v1.1h-1.1z M485.7 105.6h1.1v1.1h-1.1z M416.3 105.1h1.1v1.1h-1.1z M442.8 104.8h1.1v1.1h-1.1z M492.5 107.6h1.1v1.1h-1.1z M386.1 110.0h1.1v1.1h-1.1z M355.8 107.2h1.1v1.1h-1.1z M475.5 106.7h1.1v1.1h-1.1z M438.9 108.0h1.1v1.1h-1.1z M405.8 106.4h1.1v1.1h-1.1z M437.8 104.3h1.1v1.1h-1.1z M426.7 105.5h1.1v1.1h-1.1z M359.9 108.5h1.1v1.1h-1.1z M355.0 104.5h1.1v1.1h-1.1z M477.2 107.5h1.1v1.1h-1.1z M445.8 106.8h1.1v1.1h-1.1z M392.3 108.0h1.1v1.1h-1.1z M446.2 107.5h1.1v1.1h-1.1z" fill="#000000"/>
<path d="M467.0 105.0l0.1 4.9 M446.7 106.7l-0.5 2.6 M434.0 106.9l-0.2 -2.6 M486.7 105.1l-0.3 -3.8 M503.1 105.7l0.3 -3.1 M496.0 105.7l0.2 -2.8 M471.0 104.5l0.5 4.2 M506.3 105.7l0.0 5.4 M481.6 104.7l0.3 -3.1 M430.6 107.0l0.5 -3.4 M507.8 105.7l0.1 -3.3 M451.9 106.7l-0.6 3.2 M457.9 106.9l-0.2 2.9 M432.0 106.9l0.6 3.1 M457.3 106.8l0.6 -4.4 M492.7 105.5l0.3 -5.3 M497.1 105.7l-0.2 -3.5 M501.4 105.7l-0.3 -3.3 M449.9 106.7l-0.3 -4.7 M431.2 107.0l0.0 5.1 M493.7 105.6l-0.4 4.0 M502.4 105.7l-0.1 -4.3 M482.6 104.8l-0.2 3.6 M487.0 105.1l0.2 -5.1 M502.2 105.7l-0.3 -4.5 M496.8 105.7l0.1 -4.8 M434.8 106.9l0.5 2.6 M455.0 106.8l0.5 4.3 M484.9 104.9l-0.3 -3.6 M503.0 105.7l0.0 -3.0 M433.0 106.9l0.2 5.5 M442.9 106.8l0.5 -2.9 M498.5 105.7l-0.4 -4.5 M507.8 105.7l-0.6 -3.5 M447.8 106.7l-0.1 4.1 M453.7 106.8l-0.2 -2.6 M429.9 107.0l0.3 -3.6 M456.6 106.8l0.1 -2.8 M462.6 106.1l0.0 5.4 M422.6 107.0l-0.4 2.9 M435.4 106.9l0.1 -2.8 M463.1 106.0l0.4 4.2 M484.8 104.9l-0.6 3.8 M423.1 107.0l-0.1 4.7 M465.6 105.2l0.5 3.6 M504.0 105.7l0.5 -4.8 M481.8 104.7l-0.4 3.2 M429.1 107.0l-0.3 -3.7 M427.2 107.1l0.5 3.5 M498.4 105.7l0.4 5.0 M444.7 106.7l-0.3 -4.3 M467.6 104.9l-0.3 -3.3 M488.8 105.2l-0.1 3.1 M497.6 105.7l0.0 4.4 M449.1 106.7l-0.4 4.5 M507.9 105.7l-0.2 2.6 M449.2 106.7l-0.4 4.2 M493.0 105.5l-0.4 4.6 M429.8 107.0l0.3 -4.0 M441.0 106.8l-0.0 -5.1" fill="none" stroke="#000000" stroke-width="1.1"/>
<path d="M452.9 108.3h1.5v1.5h-1.5z M454.3 109.8h1.5v1.5h-1.5z M455.8 111.3h1.5v1.5h-1.5z M456.6 112.3h1.5v1.5h-1.5z M457.8 110.8h1.5v1.5h-1.5z M458.8 109.3h1.5v1.5h-1.5z M451.8 107.8h1.5v1.5h-1.5z M485.3 110.8h1.5v1.5h-1.5z M489.3 111.8h1.5v1.5h-1.5z M493.3 111.3h1.5v1.5h-1.5z M497.3 111.3h1.5v1.5h-1.5z M501.3 112.3h1.5v1.5h-1.5z M504.3 114.3h1.5v1.5h-1.5z M506.3 115.3h1.5v1.5h-1.5z M507.8 114.3h1.5v1.5h-1.5z" fill="#ff00ff"/>
<path d="M351.5 112.5h1.1v1.1h-1.1z M359.5 112.0h1.1v1.1h-1.1z M379.5 113.5h1.1v1.1h-1.1z M394.5 111.5h1.1v1.1h-1.1z M419.5 112.5h1.1v1.1h-1.1z M436.5 113.0h1.1v1.1h-1.1z M459.5 114.0h1.1v1.1h-1.1z M475.5 110.5h1.1v1.1h-1.1z M499.5 111.5h1.1v1.1h-1.1z" fill="#000000"/>
<polyline points="344.0,178.5 345.5,178.3 345.8,177.9 346.1,176.7 346.5,176.4 346.8,175.7 347.1,174.5 347.3,173.7 347.5,173.0 347.7,172.3 347.9,171.7 348.1,170.9 348.2,169.7 348.4,168.6 348.6,168.2 348.8,167.1 349.0,166.4 349.4,166.0 349.8,164.8 350.1,164.1 350.5,163.6 350.9,163.0 351.1,163.2 351.3,164.5 351.5,165.4 351.7,165.9 352.0,166.7 352.2,167.7 352.4,168.6 352.6,169.7 352.8,170.7 353.0,171.4 353.2,172.2 353.5,173.4 353.7,174.3 353.9,174.9 354.1,175.8 355.0,175.8 355.9,175.5 356.8,175.9 357.8,175.9 358.7,175.8 359.6,175.9 360.5,176.1 360.9,176.6 361.3,177.4 361.7,178.3 362.1,179.0 362.4,179.5 362.8,180.6 363.2,181.4 363.6,181.5 364.0,181.4 364.4,180.0 364.7,179.8 365.1,178.9 365.5,178.2 366.5,177.2 367.5,176.6 367.7,177.3 368.0,178.0 368.2,178.8 368.4,179.7 368.7,180.9 368.9,181.5 369.2,182.6 369.4,183.4 370.2,182.4 371.1,181.6 371.9,181.5 372.5,181.5 373.2,182.3 373.8,183.0 374.4,183.1 375.1,183.7 375.7,184.5 376.3,183.6 377.0,183.6 377.6,183.0 378.2,182.3 378.9,181.9 379.5,180.9 380.0,181.7 380.7,182.1 381.4,182.7 382.2,183.6 382.9,183.9 383.6,184.3 383.9,184.0 384.1,182.7 384.4,182.3 384.6,181.3 384.9,180.7 385.2,179.9 385.4,179.3 385.7,178.5 385.9,177.5 386.1,176.6 386.3,176.2 386.5,174.9 386.7,174.5 386.8,173.8 387.0,172.9 387.2,171.7 387.4,170.9 387.6,170.5 387.8,169.8 388.6,168.9 389.4,168.3 389.9,167.5 390.4,166.6 390.9,166.4 391.4,165.2 391.9,164.4 392.4,163.8 393.0,162.7 393.5,162.3 394.0,161.6 394.5,160.6 395.1,160.2 395.6,159.3 396.1,158.7 397.2,159.4 397.4,160.3 397.7,161.1 397.9,161.5 398.2,162.7 398.4,163.7 398.7,164.2 399.0,165.1 399.2,166.0 399.5,166.6 399.8,167.2 400.0,168.1 400.3,169.0 400.5,170.0 400.8,170.9 401.1,171.7 401.3,172.6 401.6,173.5 401.8,174.1 402.1,175.0 402.3,175.5 402.5,176.7 402.7,177.6 402.9,178.0 403.1,179.0 403.3,179.4 403.5,180.8 403.7,181.2 403.9,182.0 404.2,182.5 404.5,183.7 404.9,184.5 405.2,184.9 405.5,185.7" fill="none" stroke="#008a00" stroke-width="1.75" stroke-linejoin="round" stroke-linecap="round" />
<path d="M342.9 181.2h1.5v1.5h-1.5z M342.9 185.3h1.5v1.5h-1.5z M342.9 189.3h1.5v1.5h-1.5z" fill="#008a00"/>
<polyline points="411.7,185.7 412.5,186.1 413.3,186.8 414.1,186.5 414.9,186.3 415.6,185.4 416.4,185.4 417.3,185.5 418.1,184.6 419.0,184.8 419.9,184.4 420.7,184.0 421.6,184.0 422.6,184.3 423.6,183.7 424.5,183.8 425.5,184.0 426.3,183.1 427.2,182.7 428.0,182.8 428.8,182.5 429.7,181.8 430.5,182.0 431.3,181.5 432.1,180.9 432.8,180.1 433.6,180.1 434.4,179.1 435.4,179.9 436.3,179.9 436.8,180.8 437.4,181.2 437.9,181.9 438.4,182.7 439.0,183.0 439.5,183.6 440.1,184.6 440.8,185.1 441.4,185.0 442.0,186.1 442.7,186.5 443.3,186.7 444.1,186.8 445.0,186.8 445.9,187.4 446.7,187.0 447.5,187.6 448.4,187.7 449.2,187.8 450.1,187.1 450.9,187.6 451.8,187.0 452.6,187.0 453.5,187.4 454.3,186.8 455.2,187.2 456.0,187.2 456.8,186.8 457.7,186.6 458.5,186.9 459.4,186.7 460.2,186.9 460.9,186.0 461.7,185.1 462.4,184.1 463.2,184.2 464.1,183.6 464.5,182.4 465.0,182.1 465.4,181.1 465.8,180.5 466.3,179.6 466.7,179.1" fill="none" stroke="#008a00" stroke-width="1.75" stroke-linejoin="round" stroke-linecap="round" />
<polyline points="473.2,179.2 473.9,178.8 474.5,178.4 475.1,177.7 475.8,177.1 476.5,176.5 477.1,175.8 477.5,176.3 477.8,177.4 478.2,178.2 478.6,178.6 479.0,179.4 479.3,180.9 479.7,181.2 480.4,181.1 481.0,180.7 481.7,179.8 482.3,179.3 483.0,178.5 483.6,178.0 484.3,178.0 484.9,177.3 485.6,176.6 486.2,176.0 486.5,175.1 486.9,174.8 487.2,173.6 487.5,172.6 487.8,172.4 488.1,171.2 488.5,170.3 488.8,169.7 489.1,168.8 489.5,168.2 489.8,167.3 490.1,166.6 490.5,165.6 490.8,165.0 491.1,164.6 491.4,163.3 491.8,162.6 492.1,161.9 492.7,162.4 493.4,162.8 494.0,163.5 494.7,164.3 495.3,164.3 495.8,165.1 496.2,166.2 496.7,166.1 497.2,167.3 497.7,167.7 498.1,168.4 498.6,169.3 499.4,168.8 500.2,168.4 501.0,168.7 501.8,168.7 502.3,167.7 502.8,167.4 503.3,166.5 503.8,165.9 504.2,165.3 504.7,164.7 505.2,164.0 505.7,163.3 506.4,162.7 507.0,161.7 507.7,161.5 508.3,160.7 509.0,160.0" fill="none" stroke="#008a00" stroke-width="1.75" stroke-linejoin="round" stroke-linecap="round" />
<polyline points="342.6,175.3 343.5,175.9 344.3,176.2 345.2,176.1 346.1,175.7 346.9,175.9 347.8,175.1 348.6,175.3 349.4,174.7 350.3,174.9 351.2,174.5 352.0,175.0 352.9,175.0 353.7,174.7 354.6,174.6 355.4,175.0 356.2,174.7 357.1,175.1 357.9,174.9 358.8,175.2 359.6,174.9 360.5,175.3 361.3,175.0 362.2,175.2 363.0,175.2 363.9,174.8 364.7,174.9 365.6,175.1 366.4,175.1 367.3,175.2 368.1,174.5 369.0,174.7 369.8,174.7 370.7,175.0 371.5,174.7 372.4,174.5 373.2,174.4 374.1,174.4 374.9,174.3 375.8,173.9 376.6,174.2 377.4,174.3 378.3,173.9 379.1,173.8 380.0,174.0 380.8,174.1 381.7,174.1 382.5,174.0 383.4,173.6 384.2,173.8 385.2,173.4 386.2,173.4 386.3,172.6 386.4,171.8 386.5,170.5 386.6,169.7 386.7,169.4 386.8,168.1 386.8,167.5 386.9,166.5 387.0,165.9 387.1,164.6 387.2,164.3 387.3,163.6 387.4,164.3 387.6,165.0 387.7,166.1 387.9,166.7 388.0,168.0 388.2,168.9 388.3,169.7 388.8,170.4 389.4,171.1 389.9,171.8 391.4,171.4 391.9,172.3 392.5,173.5 392.8,174.2 393.0,174.7 393.2,175.7 393.5,177.1 394.6,176.0 395.6,176.1 396.6,175.8 397.7,175.2 398.7,175.6 399.8,175.7 400.8,175.6 401.6,176.2 402.3,176.9 402.5,177.8 402.6,178.7 402.8,179.7 402.9,180.3 403.1,181.5 403.2,182.5 403.4,183.3 403.5,182.2 403.6,181.2 403.8,180.6 403.9,179.6 404.0,179.0 404.1,177.7 404.3,177.0 404.4,176.0 404.9,174.8 405.2,176.0 405.4,177.2 405.7,178.4 405.8,177.3 405.9,176.8 406.0,175.8 406.1,175.3 406.2,174.1 406.4,174.9 406.5,175.6 406.6,176.8 406.7,177.5 406.8,178.5 407.1,177.2 407.3,176.3 407.6,174.9 407.7,176.4 407.9,176.7 408.1,177.8 408.5,177.3 408.9,175.6 409.3,177.1 409.6,178.0 409.7,176.4 409.9,175.8 410.0,175.2 410.1,174.4 410.3,175.0 410.4,176.1 410.5,176.6 410.7,177.7 410.8,178.1 411.0,177.7 411.2,176.5 411.3,176.0 411.5,176.6 411.7,177.3 411.9,178.5 412.0,179.3 412.2,178.6 412.4,177.5 412.6,176.9 412.7,176.0 412.9,175.2 413.2,176.3 413.4,177.2 413.6,177.9 414.0,176.8 414.5,175.7 414.6,176.8 414.8,177.7 415.0,178.2 415.1,178.9 415.3,180.1 415.7,178.9 416.0,178.4 416.4,177.3 417.4,176.8 418.5,176.9 419.5,177.1 420.4,177.0 421.2,176.7 422.1,176.9 423.0,176.8 423.8,176.6 424.7,176.6 425.2,177.3 425.7,178.7 426.6,177.9 427.4,178.1 428.3,177.8 429.1,177.3 430.0,177.1 430.9,176.6 431.8,176.2 432.6,175.9 433.4,176.3 434.2,175.9 435.0,176.5 435.8,176.4 436.6,176.5 437.4,176.4 438.2,176.1 439.1,176.6 440.1,176.8 441.1,177.4 442.0,177.5 442.8,177.4 443.6,177.6 444.4,177.7 445.2,177.6 446.0,177.5 446.8,177.7 447.6,177.7 448.4,177.4 449.2,177.8 449.9,178.0 450.7,178.5 451.4,178.5 452.2,179.2 453.0,178.7 453.7,178.1 454.5,178.2 455.2,177.9 456.0,177.1 457.0,177.4 457.9,177.0 458.9,177.2 459.5,176.7 460.2,176.0 460.9,175.6 461.5,174.7 462.5,175.0 463.4,174.9 464.4,174.8 465.4,174.6 466.4,174.6 467.4,174.8 468.3,174.8 469.3,175.3 470.1,175.1 470.9,174.9 471.6,174.9 472.4,174.3 473.2,174.4 473.4,173.7 473.6,172.8 473.8,171.6 474.0,170.9 474.3,170.1 474.5,169.3 474.7,168.7 474.9,167.7 475.1,168.5 475.3,169.9 475.4,170.6 475.6,171.7 475.8,172.3 476.7,172.1 477.5,172.1 478.4,172.7 479.3,172.2 480.1,172.3 481.0,172.7 481.8,172.9 482.6,173.0 483.3,173.5 484.1,174.0 484.9,174.1 485.9,174.2 486.9,174.1 487.8,174.3 488.8,174.6 489.7,174.8 490.5,175.3 491.4,175.8 491.7,174.4 492.0,173.7 492.4,173.4 492.7,172.3 493.0,171.5 493.4,171.0 493.7,169.7 494.0,169.1 494.5,170.0 495.0,170.5 495.5,170.7 496.0,171.5 496.4,172.7 496.8,173.3 497.1,174.0 497.5,175.1 497.9,175.6 498.9,176.0 499.9,175.6 500.8,176.0 501.8,175.9 502.6,175.9 503.5,176.6 504.3,176.7 505.1,176.8 505.9,176.2 506.7,175.7 507.5,175.3 508.3,174.6" fill="none" stroke="#0000ff" stroke-width="1.7" stroke-linejoin="round" stroke-linecap="round" />
<rect x="38.50" y="262.50" width="181.00" height="45.00" fill="none" stroke="#bdbdbd" stroke-width="1"/>
<rect x="37.50" y="261.50" width="181.00" height="45.00" fill="#ffffff" stroke="#a8a8a8" stroke-width="1"/>
<rect x="48.10" y="266.80" width="1.6" height="1.6" fill="#008a00"/>
<text x="59.00" y="270.40" fill="#008a00" stroke="#008a00" stroke-width="0.08" font-size="9.0" text-anchor="start" >Temperature vs Time (Optical Sensor)</text>
<rect x="48.10" y="277.85" width="1.6" height="1.6" fill="#ff00ff"/>
<text x="59.00" y="281.45" fill="#ff00ff" stroke="#ff00ff" stroke-width="0.08" font-size="9.0" text-anchor="start" >Depth vs Time (Optical Sensor)</text>
<rect x="48.10" y="288.90" width="1.6" height="1.6" fill="#0000ff"/>
<text x="59.00" y="292.50" fill="#0000ff" stroke="#0000ff" stroke-width="0.08" font-size="9.0" text-anchor="start" >Temperature vs Time (Sea-Bird Sensor)</text>
<rect x="48.10" y="299.95" width="1.6" height="1.6" fill="#000000"/>
<text x="59.00" y="303.55" fill="#000000" stroke="#000000" stroke-width="0.08" font-size="9.0" text-anchor="start" >Depth vs Time (Sea-Bird Sensor)</text>
<rect x="319.50" y="252.50" width="186.00" height="46.00" fill="none" stroke="#bdbdbd" stroke-width="1"/>
<rect x="318.50" y="251.50" width="186.00" height="46.00" fill="#ffffff" stroke="#a8a8a8" stroke-width="1"/>
<rect x="329.20" y="257.30" width="1.6" height="1.6" fill="#ff00ff"/>
<text x="343.20" y="260.90" fill="#ff00ff" stroke="#ff00ff" stroke-width="0.08" font-size="9.0" text-anchor="start" >Depth vs Time (Optical Sensor)</text>
<rect x="329.20" y="268.35" width="1.6" height="1.6" fill="#008a00"/>
<text x="343.20" y="271.95" fill="#008a00" stroke="#008a00" stroke-width="0.08" font-size="9.0" text-anchor="start" >Temperature vs Time (Optical Sensor)</text>
<rect x="329.20" y="279.40" width="1.6" height="1.6" fill="#000000"/>
<text x="343.20" y="283.00" fill="#000000" stroke="#000000" stroke-width="0.08" font-size="9.0" text-anchor="start" >Depth vs Time (Sea-Bird Sensor)</text>
<rect x="329.20" y="290.45" width="1.6" height="1.6" fill="#0000ff"/>
<text x="343.20" y="294.05" fill="#0000ff" stroke="#0000ff" stroke-width="0.08" font-size="9.0" text-anchor="start" >Temperature vs Time (Sea-Bird Sensor)</text>
<text x="130.2" y="378.1" fill="#000" font-size="15.5" text-anchor="middle" font-family="'Liberation Serif', serif">(<tspan font-weight="bold" font-size="13.2">a</tspan>)</text>
<text x="416.7" y="378.1" fill="#000" font-size="15.5" text-anchor="middle" font-family="'Liberation Serif', serif">(<tspan font-weight="bold" font-size="13.2">b</tspan>)</text>
</svg>
</body></html>
